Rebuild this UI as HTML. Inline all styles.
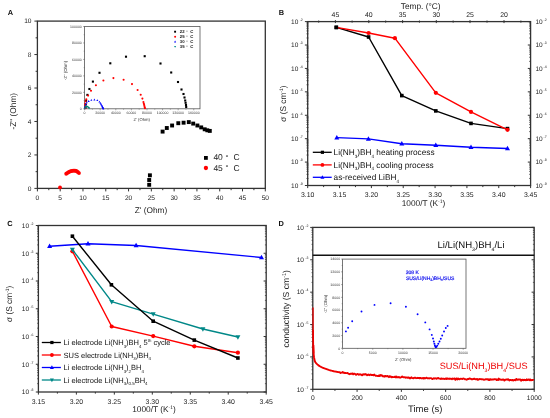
<!DOCTYPE html>
<html><head><meta charset="utf-8"><style>
html,body{margin:0;padding:0;background:#fff;}
svg{display:block;filter:blur(0.35px);}
text{font-family:"Liberation Sans",sans-serif;text-rendering:geometricPrecision;}
</style></head><body>
<svg width="550" height="418" viewBox="0 0 550 418">
<rect width="550" height="418" fill="#fff"/>
<rect x="37.40" y="21.10" width="227.90" height="167.30" fill="none" stroke="#333" stroke-width="1.3"/>
<line x1="37.40" y1="188.40" x2="37.40" y2="191.40" stroke="#333" stroke-width="1"/>
<text x="37.40" y="199.90" font-size="6.6" text-anchor="middle" fill="#222" font-weight="normal" >0</text>
<line x1="48.80" y1="188.40" x2="48.80" y2="190.20" stroke="#333" stroke-width="1"/>
<line x1="60.19" y1="188.40" x2="60.19" y2="191.40" stroke="#333" stroke-width="1"/>
<text x="60.19" y="199.90" font-size="6.6" text-anchor="middle" fill="#222" font-weight="normal" >5</text>
<line x1="71.59" y1="188.40" x2="71.59" y2="190.20" stroke="#333" stroke-width="1"/>
<line x1="82.98" y1="188.40" x2="82.98" y2="191.40" stroke="#333" stroke-width="1"/>
<text x="82.98" y="199.90" font-size="6.6" text-anchor="middle" fill="#222" font-weight="normal" >10</text>
<line x1="94.38" y1="188.40" x2="94.38" y2="190.20" stroke="#333" stroke-width="1"/>
<line x1="105.77" y1="188.40" x2="105.77" y2="191.40" stroke="#333" stroke-width="1"/>
<text x="105.77" y="199.90" font-size="6.6" text-anchor="middle" fill="#222" font-weight="normal" >15</text>
<line x1="117.16" y1="188.40" x2="117.16" y2="190.20" stroke="#333" stroke-width="1"/>
<line x1="128.56" y1="188.40" x2="128.56" y2="191.40" stroke="#333" stroke-width="1"/>
<text x="128.56" y="199.90" font-size="6.6" text-anchor="middle" fill="#222" font-weight="normal" >20</text>
<line x1="139.96" y1="188.40" x2="139.96" y2="190.20" stroke="#333" stroke-width="1"/>
<line x1="151.35" y1="188.40" x2="151.35" y2="191.40" stroke="#333" stroke-width="1"/>
<text x="151.35" y="199.90" font-size="6.6" text-anchor="middle" fill="#222" font-weight="normal" >25</text>
<line x1="162.75" y1="188.40" x2="162.75" y2="190.20" stroke="#333" stroke-width="1"/>
<line x1="174.14" y1="188.40" x2="174.14" y2="191.40" stroke="#333" stroke-width="1"/>
<text x="174.14" y="199.90" font-size="6.6" text-anchor="middle" fill="#222" font-weight="normal" >30</text>
<line x1="185.54" y1="188.40" x2="185.54" y2="190.20" stroke="#333" stroke-width="1"/>
<line x1="196.93" y1="188.40" x2="196.93" y2="191.40" stroke="#333" stroke-width="1"/>
<text x="196.93" y="199.90" font-size="6.6" text-anchor="middle" fill="#222" font-weight="normal" >35</text>
<line x1="208.33" y1="188.40" x2="208.33" y2="190.20" stroke="#333" stroke-width="1"/>
<line x1="219.72" y1="188.40" x2="219.72" y2="191.40" stroke="#333" stroke-width="1"/>
<text x="219.72" y="199.90" font-size="6.6" text-anchor="middle" fill="#222" font-weight="normal" >40</text>
<line x1="231.12" y1="188.40" x2="231.12" y2="190.20" stroke="#333" stroke-width="1"/>
<line x1="242.51" y1="188.40" x2="242.51" y2="191.40" stroke="#333" stroke-width="1"/>
<text x="242.51" y="199.90" font-size="6.6" text-anchor="middle" fill="#222" font-weight="normal" >45</text>
<line x1="253.91" y1="188.40" x2="253.91" y2="190.20" stroke="#333" stroke-width="1"/>
<line x1="265.30" y1="188.40" x2="265.30" y2="191.40" stroke="#333" stroke-width="1"/>
<text x="265.30" y="199.90" font-size="6.6" text-anchor="middle" fill="#222" font-weight="normal" >50</text>
<line x1="34.40" y1="188.40" x2="37.40" y2="188.40" stroke="#333" stroke-width="1"/>
<text x="31.50" y="190.70" font-size="6.6" text-anchor="end" fill="#222" font-weight="normal" >0</text>
<line x1="35.60" y1="171.67" x2="37.40" y2="171.67" stroke="#333" stroke-width="1"/>
<line x1="34.40" y1="154.94" x2="37.40" y2="154.94" stroke="#333" stroke-width="1"/>
<text x="31.50" y="157.24" font-size="6.6" text-anchor="end" fill="#222" font-weight="normal" >2</text>
<line x1="35.60" y1="138.21" x2="37.40" y2="138.21" stroke="#333" stroke-width="1"/>
<line x1="34.40" y1="121.48" x2="37.40" y2="121.48" stroke="#333" stroke-width="1"/>
<text x="31.50" y="123.78" font-size="6.6" text-anchor="end" fill="#222" font-weight="normal" >4</text>
<line x1="35.60" y1="104.75" x2="37.40" y2="104.75" stroke="#333" stroke-width="1"/>
<line x1="34.40" y1="88.02" x2="37.40" y2="88.02" stroke="#333" stroke-width="1"/>
<text x="31.50" y="90.32" font-size="6.6" text-anchor="end" fill="#222" font-weight="normal" >6</text>
<line x1="35.60" y1="71.29" x2="37.40" y2="71.29" stroke="#333" stroke-width="1"/>
<line x1="34.40" y1="54.56" x2="37.40" y2="54.56" stroke="#333" stroke-width="1"/>
<text x="31.50" y="56.86" font-size="6.6" text-anchor="end" fill="#222" font-weight="normal" >8</text>
<line x1="35.60" y1="37.83" x2="37.40" y2="37.83" stroke="#333" stroke-width="1"/>
<line x1="34.40" y1="21.10" x2="37.40" y2="21.10" stroke="#333" stroke-width="1"/>
<text x="31.50" y="23.40" font-size="6.6" text-anchor="end" fill="#222" font-weight="normal" >10</text>
<text x="151.00" y="213.00" font-size="8.3" text-anchor="middle" fill="#222" font-weight="normal" >Z' (Ohm)</text>
<text x="16.20" y="111.20" font-size="8.3" text-anchor="middle" fill="#222" font-weight="normal" transform="rotate(-90 16.2 111.2)">-Z" (Ohm)</text>
<text x="10.30" y="15.40" font-size="7.4" text-anchor="middle" fill="#111" font-weight="bold" >A</text>
<rect x="147.95" y="173.35" width="3.9" height="3.9" fill="#000"/>
<rect x="147.25" y="178.05" width="3.9" height="3.9" fill="#000"/>
<rect x="147.25" y="182.85" width="3.9" height="3.9" fill="#000"/>
<rect x="160.65" y="129.65" width="3.9" height="3.9" fill="#000"/>
<rect x="164.85" y="126.05" width="3.9" height="3.9" fill="#000"/>
<rect x="170.15" y="123.55" width="3.9" height="3.9" fill="#000"/>
<rect x="176.35" y="121.25" width="3.9" height="3.9" fill="#000"/>
<rect x="181.65" y="120.75" width="3.9" height="3.9" fill="#000"/>
<rect x="186.85" y="120.15" width="3.9" height="3.9" fill="#000"/>
<rect x="191.25" y="121.65" width="3.9" height="3.9" fill="#000"/>
<rect x="195.45" y="123.55" width="3.9" height="3.9" fill="#000"/>
<rect x="199.25" y="125.45" width="3.9" height="3.9" fill="#000"/>
<rect x="202.75" y="127.35" width="3.9" height="3.9" fill="#000"/>
<rect x="205.35" y="128.35" width="3.9" height="3.9" fill="#000"/>
<rect x="207.85" y="128.95" width="3.9" height="3.9" fill="#000"/>
<circle cx="60.00" cy="187.40" r="1.9" fill="#f00"/>
<circle cx="66.20" cy="173.75" r="1.9" fill="#f00"/>
<circle cx="67.18" cy="173.03" r="1.9" fill="#f00"/>
<circle cx="68.17" cy="172.41" r="1.9" fill="#f00"/>
<circle cx="69.15" cy="171.87" r="1.9" fill="#f00"/>
<circle cx="70.14" cy="171.43" r="1.9" fill="#f00"/>
<circle cx="71.12" cy="171.09" r="1.9" fill="#f00"/>
<circle cx="72.11" cy="170.83" r="1.9" fill="#f00"/>
<circle cx="73.09" cy="170.67" r="1.9" fill="#f00"/>
<circle cx="74.08" cy="170.60" r="1.9" fill="#f00"/>
<circle cx="75.06" cy="170.66" r="1.9" fill="#f00"/>
<circle cx="76.05" cy="170.94" r="1.9" fill="#f00"/>
<circle cx="77.03" cy="171.43" r="1.9" fill="#f00"/>
<circle cx="78.02" cy="172.13" r="1.9" fill="#f00"/>
<circle cx="79.00" cy="173.05" r="1.9" fill="#f00"/>
<text x="213.40" y="160.20" font-size="8.5" text-anchor="start" fill="#222" font-weight="normal" >40</text>
<text x="225.47" y="160.20" font-size="7.225" text-anchor="start" fill="#222" font-weight="normal" dy="-0.68">°</text>
<text x="233.46" y="160.20" font-size="8.5" text-anchor="start" fill="#222" font-weight="normal" >C</text>
<rect x="204.00" y="156.00" width="3.8" height="3.8" fill="#000"/>
<text x="213.40" y="170.80" font-size="8.5" text-anchor="start" fill="#222" font-weight="normal" >45</text>
<text x="225.47" y="170.80" font-size="7.225" text-anchor="start" fill="#222" font-weight="normal" dy="-0.68">°</text>
<text x="233.46" y="170.80" font-size="8.5" text-anchor="start" fill="#222" font-weight="normal" >C</text>
<circle cx="205.90" cy="168.00" r="2.15" fill="#f00"/>
<rect x="84.60" y="26.50" width="115.40" height="82.30" fill="none" stroke="#555" stroke-width="0.8"/>
<line x1="84.60" y1="108.80" x2="84.60" y2="110.30" stroke="#555" stroke-width="0.5"/>
<text x="84.60" y="113.90" font-size="3.5" text-anchor="middle" fill="#333" font-weight="normal" >0</text>
<line x1="92.40" y1="108.80" x2="92.40" y2="109.70" stroke="#555" stroke-width="0.5"/>
<line x1="100.19" y1="108.80" x2="100.19" y2="110.30" stroke="#555" stroke-width="0.5"/>
<text x="100.19" y="113.90" font-size="3.5" text-anchor="middle" fill="#333" font-weight="normal" >20000</text>
<line x1="107.99" y1="108.80" x2="107.99" y2="109.70" stroke="#555" stroke-width="0.5"/>
<line x1="115.79" y1="108.80" x2="115.79" y2="110.30" stroke="#555" stroke-width="0.5"/>
<text x="115.79" y="113.90" font-size="3.5" text-anchor="middle" fill="#333" font-weight="normal" >40000</text>
<line x1="123.59" y1="108.80" x2="123.59" y2="109.70" stroke="#555" stroke-width="0.5"/>
<line x1="131.38" y1="108.80" x2="131.38" y2="110.30" stroke="#555" stroke-width="0.5"/>
<text x="131.38" y="113.90" font-size="3.5" text-anchor="middle" fill="#333" font-weight="normal" >60000</text>
<line x1="139.18" y1="108.80" x2="139.18" y2="109.70" stroke="#555" stroke-width="0.5"/>
<line x1="146.98" y1="108.80" x2="146.98" y2="110.30" stroke="#555" stroke-width="0.5"/>
<text x="146.98" y="113.90" font-size="3.5" text-anchor="middle" fill="#333" font-weight="normal" >80000</text>
<line x1="154.78" y1="108.80" x2="154.78" y2="109.70" stroke="#555" stroke-width="0.5"/>
<line x1="162.57" y1="108.80" x2="162.57" y2="110.30" stroke="#555" stroke-width="0.5"/>
<text x="162.57" y="113.90" font-size="3.5" text-anchor="middle" fill="#333" font-weight="normal" >100000</text>
<line x1="170.37" y1="108.80" x2="170.37" y2="109.70" stroke="#555" stroke-width="0.5"/>
<line x1="178.17" y1="108.80" x2="178.17" y2="110.30" stroke="#555" stroke-width="0.5"/>
<text x="178.17" y="113.90" font-size="3.5" text-anchor="middle" fill="#333" font-weight="normal" >120000</text>
<line x1="185.96" y1="108.80" x2="185.96" y2="109.70" stroke="#555" stroke-width="0.5"/>
<line x1="193.76" y1="108.80" x2="193.76" y2="110.30" stroke="#555" stroke-width="0.5"/>
<text x="193.76" y="113.90" font-size="3.5" text-anchor="middle" fill="#333" font-weight="normal" >140000</text>
<line x1="83.10" y1="108.80" x2="84.60" y2="108.80" stroke="#555" stroke-width="0.5"/>
<text x="81.80" y="110.05" font-size="3.5" text-anchor="end" fill="#333" font-weight="normal" >0</text>
<line x1="83.70" y1="100.57" x2="84.60" y2="100.57" stroke="#555" stroke-width="0.5"/>
<line x1="83.10" y1="92.34" x2="84.60" y2="92.34" stroke="#555" stroke-width="0.5"/>
<text x="81.80" y="93.59" font-size="3.5" text-anchor="end" fill="#333" font-weight="normal" >20000</text>
<line x1="83.70" y1="84.11" x2="84.60" y2="84.11" stroke="#555" stroke-width="0.5"/>
<line x1="83.10" y1="75.88" x2="84.60" y2="75.88" stroke="#555" stroke-width="0.5"/>
<text x="81.80" y="77.13" font-size="3.5" text-anchor="end" fill="#333" font-weight="normal" >40000</text>
<line x1="83.70" y1="67.65" x2="84.60" y2="67.65" stroke="#555" stroke-width="0.5"/>
<line x1="83.10" y1="59.42" x2="84.60" y2="59.42" stroke="#555" stroke-width="0.5"/>
<text x="81.80" y="60.67" font-size="3.5" text-anchor="end" fill="#333" font-weight="normal" >60000</text>
<line x1="83.70" y1="51.19" x2="84.60" y2="51.19" stroke="#555" stroke-width="0.5"/>
<line x1="83.10" y1="42.96" x2="84.60" y2="42.96" stroke="#555" stroke-width="0.5"/>
<text x="81.80" y="44.21" font-size="3.5" text-anchor="end" fill="#333" font-weight="normal" >80000</text>
<line x1="83.70" y1="34.73" x2="84.60" y2="34.73" stroke="#555" stroke-width="0.5"/>
<line x1="83.10" y1="26.50" x2="84.60" y2="26.50" stroke="#555" stroke-width="0.5"/>
<text x="81.80" y="27.75" font-size="3.5" text-anchor="end" fill="#333" font-weight="normal" >100000</text>
<text x="141.80" y="120.70" font-size="4.2" text-anchor="middle" fill="#333" font-weight="normal" >Z' (Ohm)</text>
<text x="66.90" y="70.50" font-size="4.4" text-anchor="middle" fill="#333" font-weight="normal" transform="rotate(-90 66.9 70.5)">-Z" (Ohm)</text>
<rect x="84.55" y="106.45" width="2.1" height="2.1" fill="#000"/>
<rect x="84.75" y="103.45" width="2.1" height="2.1" fill="#000"/>
<rect x="85.05" y="99.75" width="2.1" height="2.1" fill="#000"/>
<rect x="86.35" y="93.85" width="2.1" height="2.1" fill="#000"/>
<rect x="88.35" y="87.95" width="2.1" height="2.1" fill="#000"/>
<rect x="91.85" y="80.55" width="2.1" height="2.1" fill="#000"/>
<rect x="98.45" y="71.75" width="2.1" height="2.1" fill="#000"/>
<rect x="109.25" y="62.25" width="2.1" height="2.1" fill="#000"/>
<rect x="124.95" y="55.65" width="2.1" height="2.1" fill="#000"/>
<rect x="143.65" y="55.15" width="2.1" height="2.1" fill="#000"/>
<rect x="159.45" y="62.45" width="2.1" height="2.1" fill="#000"/>
<rect x="170.15" y="71.45" width="2.1" height="2.1" fill="#000"/>
<rect x="176.95" y="80.95" width="2.1" height="2.1" fill="#000"/>
<rect x="180.45" y="88.45" width="2.1" height="2.1" fill="#000"/>
<rect x="182.45" y="92.95" width="2.1" height="2.1" fill="#000"/>
<rect x="183.45" y="96.45" width="2.1" height="2.1" fill="#000"/>
<rect x="184.15" y="99.45" width="2.1" height="2.1" fill="#000"/>
<rect x="184.55" y="101.75" width="2.1" height="2.1" fill="#000"/>
<rect x="184.95" y="103.95" width="2.1" height="2.1" fill="#000"/>
<rect x="185.15" y="105.95" width="2.1" height="2.1" fill="#000"/>
<circle cx="85.20" cy="108.20" r="1.05" fill="#f00"/>
<circle cx="85.00" cy="105.70" r="1.05" fill="#f00"/>
<circle cx="85.20" cy="103.70" r="1.05" fill="#f00"/>
<circle cx="85.50" cy="101.20" r="1.05" fill="#f00"/>
<circle cx="86.30" cy="99.20" r="1.05" fill="#f00"/>
<circle cx="88.10" cy="95.60" r="1.05" fill="#f00"/>
<circle cx="91.00" cy="90.80" r="1.05" fill="#f00"/>
<circle cx="95.90" cy="85.30" r="1.05" fill="#f00"/>
<circle cx="103.40" cy="80.50" r="1.05" fill="#f00"/>
<circle cx="113.40" cy="78.10" r="1.05" fill="#f00"/>
<circle cx="123.60" cy="79.70" r="1.05" fill="#f00"/>
<circle cx="132.00" cy="84.10" r="1.05" fill="#f00"/>
<circle cx="137.60" cy="90.00" r="1.05" fill="#f00"/>
<circle cx="140.70" cy="94.80" r="1.05" fill="#f00"/>
<circle cx="142.40" cy="98.60" r="1.05" fill="#f00"/>
<circle cx="143.40" cy="102.00" r="1.05" fill="#f00"/>
<circle cx="144.10" cy="104.70" r="1.05" fill="#f00"/>
<circle cx="144.70" cy="107.20" r="1.05" fill="#f00"/>
<circle cx="145.00" cy="108.30" r="1.05" fill="#f00"/>
<circle cx="143.80" cy="103.50" r="1.05" fill="#f00"/>
<circle cx="144.40" cy="106.00" r="1.05" fill="#f00"/>
<polygon points="84.80,106.72 83.80,108.52 85.80,108.52" fill="#00f"/>
<polygon points="85.20,104.92 84.20,106.72 86.20,106.72" fill="#00f"/>
<polygon points="85.80,103.32 84.80,105.12 86.80,105.12" fill="#00f"/>
<polygon points="86.80,101.52 85.80,103.32 87.80,103.32" fill="#00f"/>
<polygon points="88.70,100.12 87.70,101.92 89.70,101.92" fill="#00f"/>
<polygon points="91.30,99.02 90.30,100.82 92.30,100.82" fill="#00f"/>
<polygon points="94.40,98.62 93.40,100.42 95.40,100.42" fill="#00f"/>
<polygon points="97.30,99.32 96.30,101.12 98.30,101.12" fill="#00f"/>
<polygon points="99.40,100.82 98.40,102.62 100.40,102.62" fill="#00f"/>
<polygon points="100.40,101.92 99.40,103.72 101.40,103.72" fill="#00f"/>
<polygon points="100.90,102.92 99.90,104.72 101.90,104.72" fill="#00f"/>
<polygon points="101.50,103.92 100.50,105.72 102.50,105.72" fill="#00f"/>
<polygon points="101.90,104.72 100.90,106.52 102.90,106.52" fill="#00f"/>
<polygon points="102.30,105.52 101.30,107.32 103.30,107.32" fill="#00f"/>
<polygon points="102.60,106.12 101.60,107.92 103.60,107.92" fill="#00f"/>
<polygon points="102.90,106.72 101.90,108.52 103.90,108.52" fill="#00f"/>
<polygon points="103.10,107.22 102.10,109.02 104.10,109.02" fill="#00f"/>
<polygon points="103.30,107.62 102.30,109.42 104.30,109.42" fill="#00f"/>
<polygon points="84.80,109.58 83.80,107.78 85.80,107.78" fill="#087"/>
<polygon points="85.20,108.28 84.20,106.48 86.20,106.48" fill="#087"/>
<polygon points="85.80,107.58 84.80,105.78 86.80,105.78" fill="#087"/>
<polygon points="86.60,107.48 85.60,105.68 87.60,105.68" fill="#087"/>
<polygon points="87.40,107.78 86.40,105.98 88.40,105.98" fill="#087"/>
<polygon points="88.10,108.18 87.10,106.38 89.10,106.38" fill="#087"/>
<polygon points="88.70,108.68 87.70,106.88 89.70,106.88" fill="#087"/>
<polygon points="89.20,109.18 88.20,107.38 90.20,107.38" fill="#087"/>
<rect x="174.15" y="30.75" width="1.9" height="1.9" fill="#000"/>
<text x="179.80" y="33.20" font-size="4.3" text-anchor="start" fill="#222" font-weight="bold" >22</text>
<text x="186.20" y="32.60" font-size="3.4" text-anchor="start" fill="#222" font-weight="bold" >°</text>
<text x="190.20" y="33.20" font-size="4.3" text-anchor="start" fill="#222" font-weight="bold" >C</text>
<circle cx="175.10" cy="36.70" r="1.0" fill="#f00"/>
<text x="179.80" y="38.20" font-size="4.3" text-anchor="start" fill="#222" font-weight="bold" >25</text>
<text x="186.20" y="37.60" font-size="3.4" text-anchor="start" fill="#222" font-weight="bold" >°</text>
<text x="190.20" y="38.20" font-size="4.3" text-anchor="start" fill="#222" font-weight="bold" >C</text>
<polygon points="175.10,40.57 174.05,42.46 176.15,42.46" fill="#00f"/>
<text x="179.80" y="43.20" font-size="4.3" text-anchor="start" fill="#222" font-weight="bold" >30</text>
<text x="186.20" y="42.60" font-size="3.4" text-anchor="start" fill="#222" font-weight="bold" >°</text>
<text x="190.20" y="43.20" font-size="4.3" text-anchor="start" fill="#222" font-weight="bold" >C</text>
<polygon points="175.10,47.83 174.05,45.94 176.15,45.94" fill="#088"/>
<text x="179.80" y="48.20" font-size="4.3" text-anchor="start" fill="#222" font-weight="bold" >35</text>
<text x="186.20" y="47.60" font-size="3.4" text-anchor="start" fill="#222" font-weight="bold" >°</text>
<text x="190.20" y="48.20" font-size="4.3" text-anchor="start" fill="#222" font-weight="bold" >C</text>
<rect x="307.70" y="21.60" width="222.90" height="163.90" fill="none" stroke="#333" stroke-width="1.3"/>
<line x1="307.70" y1="185.50" x2="307.70" y2="188.10" stroke="#333" stroke-width="1"/>
<text x="307.70" y="196.50" font-size="6.9" text-anchor="middle" fill="#222" font-weight="normal" >3.10</text>
<line x1="323.62" y1="185.50" x2="323.62" y2="187.10" stroke="#333" stroke-width="1"/>
<line x1="339.54" y1="185.50" x2="339.54" y2="188.10" stroke="#333" stroke-width="1"/>
<text x="339.54" y="196.50" font-size="6.9" text-anchor="middle" fill="#222" font-weight="normal" >3.15</text>
<line x1="355.46" y1="185.50" x2="355.46" y2="187.10" stroke="#333" stroke-width="1"/>
<line x1="371.39" y1="185.50" x2="371.39" y2="188.10" stroke="#333" stroke-width="1"/>
<text x="371.39" y="196.50" font-size="6.9" text-anchor="middle" fill="#222" font-weight="normal" >3.20</text>
<line x1="387.31" y1="185.50" x2="387.31" y2="187.10" stroke="#333" stroke-width="1"/>
<line x1="403.23" y1="185.50" x2="403.23" y2="188.10" stroke="#333" stroke-width="1"/>
<text x="403.23" y="196.50" font-size="6.9" text-anchor="middle" fill="#222" font-weight="normal" >3.25</text>
<line x1="419.15" y1="185.50" x2="419.15" y2="187.10" stroke="#333" stroke-width="1"/>
<line x1="435.07" y1="185.50" x2="435.07" y2="188.10" stroke="#333" stroke-width="1"/>
<text x="435.07" y="196.50" font-size="6.9" text-anchor="middle" fill="#222" font-weight="normal" >3.30</text>
<line x1="450.99" y1="185.50" x2="450.99" y2="187.10" stroke="#333" stroke-width="1"/>
<line x1="466.91" y1="185.50" x2="466.91" y2="188.10" stroke="#333" stroke-width="1"/>
<text x="466.91" y="196.50" font-size="6.9" text-anchor="middle" fill="#222" font-weight="normal" >3.35</text>
<line x1="482.84" y1="185.50" x2="482.84" y2="187.10" stroke="#333" stroke-width="1"/>
<line x1="498.76" y1="185.50" x2="498.76" y2="188.10" stroke="#333" stroke-width="1"/>
<text x="498.76" y="196.50" font-size="6.9" text-anchor="middle" fill="#222" font-weight="normal" >3.40</text>
<line x1="514.68" y1="185.50" x2="514.68" y2="187.10" stroke="#333" stroke-width="1"/>
<line x1="530.60" y1="185.50" x2="530.60" y2="188.10" stroke="#333" stroke-width="1"/>
<text x="530.60" y="196.50" font-size="6.9" text-anchor="middle" fill="#222" font-weight="normal" >3.45</text>
<line x1="304.90" y1="185.50" x2="307.70" y2="185.50" stroke="#333" stroke-width="1"/>
<line x1="527.80" y1="185.50" x2="530.60" y2="185.50" stroke="#333" stroke-width="1"/>
<text x="298.30" y="187.80" font-size="6.5" text-anchor="end" fill="#222" font-weight="normal" >10</text>
<text x="299.70" y="184.80" font-size="3.5" text-anchor="start" fill="#222" font-weight="normal" >-9</text>
<text x="535.40" y="187.80" font-size="6.5" text-anchor="start" fill="#222" font-weight="normal" >10</text>
<text x="543.60" y="184.80" font-size="3.5" text-anchor="start" fill="#222" font-weight="normal" >-9</text>
<line x1="306.40" y1="178.45" x2="308.50" y2="178.45" stroke="#333" stroke-width="0.7"/>
<line x1="529.10" y1="178.45" x2="530.60" y2="178.45" stroke="#333" stroke-width="0.7"/>
<line x1="306.40" y1="174.33" x2="308.50" y2="174.33" stroke="#333" stroke-width="0.7"/>
<line x1="529.10" y1="174.33" x2="530.60" y2="174.33" stroke="#333" stroke-width="0.7"/>
<line x1="306.40" y1="171.40" x2="308.50" y2="171.40" stroke="#333" stroke-width="0.7"/>
<line x1="529.10" y1="171.40" x2="530.60" y2="171.40" stroke="#333" stroke-width="0.7"/>
<line x1="306.40" y1="169.13" x2="308.50" y2="169.13" stroke="#333" stroke-width="0.7"/>
<line x1="529.10" y1="169.13" x2="530.60" y2="169.13" stroke="#333" stroke-width="0.7"/>
<line x1="306.40" y1="167.28" x2="308.50" y2="167.28" stroke="#333" stroke-width="0.7"/>
<line x1="529.10" y1="167.28" x2="530.60" y2="167.28" stroke="#333" stroke-width="0.7"/>
<line x1="306.40" y1="165.71" x2="308.50" y2="165.71" stroke="#333" stroke-width="0.7"/>
<line x1="529.10" y1="165.71" x2="530.60" y2="165.71" stroke="#333" stroke-width="0.7"/>
<line x1="306.40" y1="164.35" x2="308.50" y2="164.35" stroke="#333" stroke-width="0.7"/>
<line x1="529.10" y1="164.35" x2="530.60" y2="164.35" stroke="#333" stroke-width="0.7"/>
<line x1="306.40" y1="163.16" x2="308.50" y2="163.16" stroke="#333" stroke-width="0.7"/>
<line x1="529.10" y1="163.16" x2="530.60" y2="163.16" stroke="#333" stroke-width="0.7"/>
<line x1="304.90" y1="162.09" x2="307.70" y2="162.09" stroke="#333" stroke-width="1"/>
<line x1="527.80" y1="162.09" x2="530.60" y2="162.09" stroke="#333" stroke-width="1"/>
<text x="298.30" y="164.39" font-size="6.5" text-anchor="end" fill="#222" font-weight="normal" >10</text>
<text x="299.70" y="161.39" font-size="3.5" text-anchor="start" fill="#222" font-weight="normal" >-8</text>
<text x="535.40" y="164.39" font-size="6.5" text-anchor="start" fill="#222" font-weight="normal" >10</text>
<text x="543.60" y="161.39" font-size="3.5" text-anchor="start" fill="#222" font-weight="normal" >-8</text>
<line x1="306.40" y1="155.04" x2="308.50" y2="155.04" stroke="#333" stroke-width="0.7"/>
<line x1="529.10" y1="155.04" x2="530.60" y2="155.04" stroke="#333" stroke-width="0.7"/>
<line x1="306.40" y1="150.91" x2="308.50" y2="150.91" stroke="#333" stroke-width="0.7"/>
<line x1="529.10" y1="150.91" x2="530.60" y2="150.91" stroke="#333" stroke-width="0.7"/>
<line x1="306.40" y1="147.99" x2="308.50" y2="147.99" stroke="#333" stroke-width="0.7"/>
<line x1="529.10" y1="147.99" x2="530.60" y2="147.99" stroke="#333" stroke-width="0.7"/>
<line x1="306.40" y1="145.72" x2="308.50" y2="145.72" stroke="#333" stroke-width="0.7"/>
<line x1="529.10" y1="145.72" x2="530.60" y2="145.72" stroke="#333" stroke-width="0.7"/>
<line x1="306.40" y1="143.87" x2="308.50" y2="143.87" stroke="#333" stroke-width="0.7"/>
<line x1="529.10" y1="143.87" x2="530.60" y2="143.87" stroke="#333" stroke-width="0.7"/>
<line x1="306.40" y1="142.30" x2="308.50" y2="142.30" stroke="#333" stroke-width="0.7"/>
<line x1="529.10" y1="142.30" x2="530.60" y2="142.30" stroke="#333" stroke-width="0.7"/>
<line x1="306.40" y1="140.94" x2="308.50" y2="140.94" stroke="#333" stroke-width="0.7"/>
<line x1="529.10" y1="140.94" x2="530.60" y2="140.94" stroke="#333" stroke-width="0.7"/>
<line x1="306.40" y1="139.74" x2="308.50" y2="139.74" stroke="#333" stroke-width="0.7"/>
<line x1="529.10" y1="139.74" x2="530.60" y2="139.74" stroke="#333" stroke-width="0.7"/>
<line x1="304.90" y1="138.67" x2="307.70" y2="138.67" stroke="#333" stroke-width="1"/>
<line x1="527.80" y1="138.67" x2="530.60" y2="138.67" stroke="#333" stroke-width="1"/>
<text x="298.30" y="140.97" font-size="6.5" text-anchor="end" fill="#222" font-weight="normal" >10</text>
<text x="299.70" y="137.97" font-size="3.5" text-anchor="start" fill="#222" font-weight="normal" >-7</text>
<text x="535.40" y="140.97" font-size="6.5" text-anchor="start" fill="#222" font-weight="normal" >10</text>
<text x="543.60" y="137.97" font-size="3.5" text-anchor="start" fill="#222" font-weight="normal" >-7</text>
<line x1="306.40" y1="131.62" x2="308.50" y2="131.62" stroke="#333" stroke-width="0.7"/>
<line x1="529.10" y1="131.62" x2="530.60" y2="131.62" stroke="#333" stroke-width="0.7"/>
<line x1="306.40" y1="127.50" x2="308.50" y2="127.50" stroke="#333" stroke-width="0.7"/>
<line x1="529.10" y1="127.50" x2="530.60" y2="127.50" stroke="#333" stroke-width="0.7"/>
<line x1="306.40" y1="124.57" x2="308.50" y2="124.57" stroke="#333" stroke-width="0.7"/>
<line x1="529.10" y1="124.57" x2="530.60" y2="124.57" stroke="#333" stroke-width="0.7"/>
<line x1="306.40" y1="122.31" x2="308.50" y2="122.31" stroke="#333" stroke-width="0.7"/>
<line x1="529.10" y1="122.31" x2="530.60" y2="122.31" stroke="#333" stroke-width="0.7"/>
<line x1="306.40" y1="120.45" x2="308.50" y2="120.45" stroke="#333" stroke-width="0.7"/>
<line x1="529.10" y1="120.45" x2="530.60" y2="120.45" stroke="#333" stroke-width="0.7"/>
<line x1="306.40" y1="118.88" x2="308.50" y2="118.88" stroke="#333" stroke-width="0.7"/>
<line x1="529.10" y1="118.88" x2="530.60" y2="118.88" stroke="#333" stroke-width="0.7"/>
<line x1="306.40" y1="117.53" x2="308.50" y2="117.53" stroke="#333" stroke-width="0.7"/>
<line x1="529.10" y1="117.53" x2="530.60" y2="117.53" stroke="#333" stroke-width="0.7"/>
<line x1="306.40" y1="116.33" x2="308.50" y2="116.33" stroke="#333" stroke-width="0.7"/>
<line x1="529.10" y1="116.33" x2="530.60" y2="116.33" stroke="#333" stroke-width="0.7"/>
<line x1="304.90" y1="115.26" x2="307.70" y2="115.26" stroke="#333" stroke-width="1"/>
<line x1="527.80" y1="115.26" x2="530.60" y2="115.26" stroke="#333" stroke-width="1"/>
<text x="298.30" y="117.56" font-size="6.5" text-anchor="end" fill="#222" font-weight="normal" >10</text>
<text x="299.70" y="114.56" font-size="3.5" text-anchor="start" fill="#222" font-weight="normal" >-6</text>
<text x="535.40" y="117.56" font-size="6.5" text-anchor="start" fill="#222" font-weight="normal" >10</text>
<text x="543.60" y="114.56" font-size="3.5" text-anchor="start" fill="#222" font-weight="normal" >-6</text>
<line x1="306.40" y1="108.21" x2="308.50" y2="108.21" stroke="#333" stroke-width="0.7"/>
<line x1="529.10" y1="108.21" x2="530.60" y2="108.21" stroke="#333" stroke-width="0.7"/>
<line x1="306.40" y1="104.09" x2="308.50" y2="104.09" stroke="#333" stroke-width="0.7"/>
<line x1="529.10" y1="104.09" x2="530.60" y2="104.09" stroke="#333" stroke-width="0.7"/>
<line x1="306.40" y1="101.16" x2="308.50" y2="101.16" stroke="#333" stroke-width="0.7"/>
<line x1="529.10" y1="101.16" x2="530.60" y2="101.16" stroke="#333" stroke-width="0.7"/>
<line x1="306.40" y1="98.89" x2="308.50" y2="98.89" stroke="#333" stroke-width="0.7"/>
<line x1="529.10" y1="98.89" x2="530.60" y2="98.89" stroke="#333" stroke-width="0.7"/>
<line x1="306.40" y1="97.04" x2="308.50" y2="97.04" stroke="#333" stroke-width="0.7"/>
<line x1="529.10" y1="97.04" x2="530.60" y2="97.04" stroke="#333" stroke-width="0.7"/>
<line x1="306.40" y1="95.47" x2="308.50" y2="95.47" stroke="#333" stroke-width="0.7"/>
<line x1="529.10" y1="95.47" x2="530.60" y2="95.47" stroke="#333" stroke-width="0.7"/>
<line x1="306.40" y1="94.11" x2="308.50" y2="94.11" stroke="#333" stroke-width="0.7"/>
<line x1="529.10" y1="94.11" x2="530.60" y2="94.11" stroke="#333" stroke-width="0.7"/>
<line x1="306.40" y1="92.91" x2="308.50" y2="92.91" stroke="#333" stroke-width="0.7"/>
<line x1="529.10" y1="92.91" x2="530.60" y2="92.91" stroke="#333" stroke-width="0.7"/>
<line x1="304.90" y1="91.84" x2="307.70" y2="91.84" stroke="#333" stroke-width="1"/>
<line x1="527.80" y1="91.84" x2="530.60" y2="91.84" stroke="#333" stroke-width="1"/>
<text x="298.30" y="94.14" font-size="6.5" text-anchor="end" fill="#222" font-weight="normal" >10</text>
<text x="299.70" y="91.14" font-size="3.5" text-anchor="start" fill="#222" font-weight="normal" >-5</text>
<text x="535.40" y="94.14" font-size="6.5" text-anchor="start" fill="#222" font-weight="normal" >10</text>
<text x="543.60" y="91.14" font-size="3.5" text-anchor="start" fill="#222" font-weight="normal" >-5</text>
<line x1="306.40" y1="84.79" x2="308.50" y2="84.79" stroke="#333" stroke-width="0.7"/>
<line x1="529.10" y1="84.79" x2="530.60" y2="84.79" stroke="#333" stroke-width="0.7"/>
<line x1="306.40" y1="80.67" x2="308.50" y2="80.67" stroke="#333" stroke-width="0.7"/>
<line x1="529.10" y1="80.67" x2="530.60" y2="80.67" stroke="#333" stroke-width="0.7"/>
<line x1="306.40" y1="77.75" x2="308.50" y2="77.75" stroke="#333" stroke-width="0.7"/>
<line x1="529.10" y1="77.75" x2="530.60" y2="77.75" stroke="#333" stroke-width="0.7"/>
<line x1="306.40" y1="75.48" x2="308.50" y2="75.48" stroke="#333" stroke-width="0.7"/>
<line x1="529.10" y1="75.48" x2="530.60" y2="75.48" stroke="#333" stroke-width="0.7"/>
<line x1="306.40" y1="73.62" x2="308.50" y2="73.62" stroke="#333" stroke-width="0.7"/>
<line x1="529.10" y1="73.62" x2="530.60" y2="73.62" stroke="#333" stroke-width="0.7"/>
<line x1="306.40" y1="72.06" x2="308.50" y2="72.06" stroke="#333" stroke-width="0.7"/>
<line x1="529.10" y1="72.06" x2="530.60" y2="72.06" stroke="#333" stroke-width="0.7"/>
<line x1="306.40" y1="70.70" x2="308.50" y2="70.70" stroke="#333" stroke-width="0.7"/>
<line x1="529.10" y1="70.70" x2="530.60" y2="70.70" stroke="#333" stroke-width="0.7"/>
<line x1="306.40" y1="69.50" x2="308.50" y2="69.50" stroke="#333" stroke-width="0.7"/>
<line x1="529.10" y1="69.50" x2="530.60" y2="69.50" stroke="#333" stroke-width="0.7"/>
<line x1="304.90" y1="68.43" x2="307.70" y2="68.43" stroke="#333" stroke-width="1"/>
<line x1="527.80" y1="68.43" x2="530.60" y2="68.43" stroke="#333" stroke-width="1"/>
<text x="298.30" y="70.73" font-size="6.5" text-anchor="end" fill="#222" font-weight="normal" >10</text>
<text x="299.70" y="67.73" font-size="3.5" text-anchor="start" fill="#222" font-weight="normal" >-4</text>
<text x="535.40" y="70.73" font-size="6.5" text-anchor="start" fill="#222" font-weight="normal" >10</text>
<text x="543.60" y="67.73" font-size="3.5" text-anchor="start" fill="#222" font-weight="normal" >-4</text>
<line x1="306.40" y1="61.38" x2="308.50" y2="61.38" stroke="#333" stroke-width="0.7"/>
<line x1="529.10" y1="61.38" x2="530.60" y2="61.38" stroke="#333" stroke-width="0.7"/>
<line x1="306.40" y1="57.26" x2="308.50" y2="57.26" stroke="#333" stroke-width="0.7"/>
<line x1="529.10" y1="57.26" x2="530.60" y2="57.26" stroke="#333" stroke-width="0.7"/>
<line x1="306.40" y1="54.33" x2="308.50" y2="54.33" stroke="#333" stroke-width="0.7"/>
<line x1="529.10" y1="54.33" x2="530.60" y2="54.33" stroke="#333" stroke-width="0.7"/>
<line x1="306.40" y1="52.06" x2="308.50" y2="52.06" stroke="#333" stroke-width="0.7"/>
<line x1="529.10" y1="52.06" x2="530.60" y2="52.06" stroke="#333" stroke-width="0.7"/>
<line x1="306.40" y1="50.21" x2="308.50" y2="50.21" stroke="#333" stroke-width="0.7"/>
<line x1="529.10" y1="50.21" x2="530.60" y2="50.21" stroke="#333" stroke-width="0.7"/>
<line x1="306.40" y1="48.64" x2="308.50" y2="48.64" stroke="#333" stroke-width="0.7"/>
<line x1="529.10" y1="48.64" x2="530.60" y2="48.64" stroke="#333" stroke-width="0.7"/>
<line x1="306.40" y1="47.28" x2="308.50" y2="47.28" stroke="#333" stroke-width="0.7"/>
<line x1="529.10" y1="47.28" x2="530.60" y2="47.28" stroke="#333" stroke-width="0.7"/>
<line x1="306.40" y1="46.09" x2="308.50" y2="46.09" stroke="#333" stroke-width="0.7"/>
<line x1="529.10" y1="46.09" x2="530.60" y2="46.09" stroke="#333" stroke-width="0.7"/>
<line x1="304.90" y1="45.01" x2="307.70" y2="45.01" stroke="#333" stroke-width="1"/>
<line x1="527.80" y1="45.01" x2="530.60" y2="45.01" stroke="#333" stroke-width="1"/>
<text x="298.30" y="47.31" font-size="6.5" text-anchor="end" fill="#222" font-weight="normal" >10</text>
<text x="299.70" y="44.31" font-size="3.5" text-anchor="start" fill="#222" font-weight="normal" >-3</text>
<text x="535.40" y="47.31" font-size="6.5" text-anchor="start" fill="#222" font-weight="normal" >10</text>
<text x="543.60" y="44.31" font-size="3.5" text-anchor="start" fill="#222" font-weight="normal" >-3</text>
<line x1="306.40" y1="37.97" x2="308.50" y2="37.97" stroke="#333" stroke-width="0.7"/>
<line x1="529.10" y1="37.97" x2="530.60" y2="37.97" stroke="#333" stroke-width="0.7"/>
<line x1="306.40" y1="33.84" x2="308.50" y2="33.84" stroke="#333" stroke-width="0.7"/>
<line x1="529.10" y1="33.84" x2="530.60" y2="33.84" stroke="#333" stroke-width="0.7"/>
<line x1="306.40" y1="30.92" x2="308.50" y2="30.92" stroke="#333" stroke-width="0.7"/>
<line x1="529.10" y1="30.92" x2="530.60" y2="30.92" stroke="#333" stroke-width="0.7"/>
<line x1="306.40" y1="28.65" x2="308.50" y2="28.65" stroke="#333" stroke-width="0.7"/>
<line x1="529.10" y1="28.65" x2="530.60" y2="28.65" stroke="#333" stroke-width="0.7"/>
<line x1="306.40" y1="26.79" x2="308.50" y2="26.79" stroke="#333" stroke-width="0.7"/>
<line x1="529.10" y1="26.79" x2="530.60" y2="26.79" stroke="#333" stroke-width="0.7"/>
<line x1="306.40" y1="25.23" x2="308.50" y2="25.23" stroke="#333" stroke-width="0.7"/>
<line x1="529.10" y1="25.23" x2="530.60" y2="25.23" stroke="#333" stroke-width="0.7"/>
<line x1="306.40" y1="23.87" x2="308.50" y2="23.87" stroke="#333" stroke-width="0.7"/>
<line x1="529.10" y1="23.87" x2="530.60" y2="23.87" stroke="#333" stroke-width="0.7"/>
<line x1="306.40" y1="22.67" x2="308.50" y2="22.67" stroke="#333" stroke-width="0.7"/>
<line x1="529.10" y1="22.67" x2="530.60" y2="22.67" stroke="#333" stroke-width="0.7"/>
<line x1="304.90" y1="21.60" x2="307.70" y2="21.60" stroke="#333" stroke-width="1"/>
<line x1="527.80" y1="21.60" x2="530.60" y2="21.60" stroke="#333" stroke-width="1"/>
<text x="298.30" y="23.90" font-size="6.5" text-anchor="end" fill="#222" font-weight="normal" >10</text>
<text x="299.70" y="20.90" font-size="3.5" text-anchor="start" fill="#222" font-weight="normal" >-2</text>
<text x="535.40" y="23.90" font-size="6.5" text-anchor="start" fill="#222" font-weight="normal" >10</text>
<text x="543.60" y="20.90" font-size="3.5" text-anchor="start" fill="#222" font-weight="normal" >-2</text>
<line x1="335.40" y1="20.10" x2="335.40" y2="23.10" stroke="#333" stroke-width="1"/>
<text x="335.40" y="16.60" font-size="6.9" text-anchor="middle" fill="#222" font-weight="normal" >45</text>
<line x1="368.80" y1="20.10" x2="368.80" y2="23.10" stroke="#333" stroke-width="1"/>
<text x="368.80" y="16.60" font-size="6.9" text-anchor="middle" fill="#222" font-weight="normal" >40</text>
<line x1="402.60" y1="20.10" x2="402.60" y2="23.10" stroke="#333" stroke-width="1"/>
<text x="402.60" y="16.60" font-size="6.9" text-anchor="middle" fill="#222" font-weight="normal" >35</text>
<line x1="436.30" y1="20.10" x2="436.30" y2="23.10" stroke="#333" stroke-width="1"/>
<text x="436.30" y="16.60" font-size="6.9" text-anchor="middle" fill="#222" font-weight="normal" >30</text>
<line x1="470.00" y1="20.10" x2="470.00" y2="23.10" stroke="#333" stroke-width="1"/>
<text x="470.00" y="16.60" font-size="6.9" text-anchor="middle" fill="#222" font-weight="normal" >25</text>
<line x1="504.00" y1="20.10" x2="504.00" y2="23.10" stroke="#333" stroke-width="1"/>
<text x="504.00" y="16.60" font-size="6.9" text-anchor="middle" fill="#222" font-weight="normal" >20</text>
<line x1="352.10" y1="20.40" x2="352.10" y2="22.80" stroke="#333" stroke-width="0.8"/>
<line x1="385.70" y1="20.40" x2="385.70" y2="22.80" stroke="#333" stroke-width="0.8"/>
<line x1="419.45" y1="20.40" x2="419.45" y2="22.80" stroke="#333" stroke-width="0.8"/>
<line x1="453.15" y1="20.40" x2="453.15" y2="22.80" stroke="#333" stroke-width="0.8"/>
<line x1="487.00" y1="20.40" x2="487.00" y2="22.80" stroke="#333" stroke-width="0.8"/>
<line x1="318.70" y1="20.40" x2="318.70" y2="22.80" stroke="#333" stroke-width="0.8"/>
<line x1="520.90" y1="20.40" x2="520.90" y2="22.80" stroke="#333" stroke-width="0.8"/>
<text x="420.70" y="8.50" font-size="8.3" text-anchor="middle" fill="#222" font-weight="normal" >Temp. (°C)</text>
<text x="423.50" y="206.20" font-size="8.3" text-anchor="middle" fill="#222" font-weight="normal" >1000/T (K<tspan font-size="5" dy="-3">-1</tspan><tspan dy="3">)</tspan></text>
<text x="286.20" y="103.60" font-size="8.3" text-anchor="middle" fill="#222" font-weight="normal" transform="rotate(-90 286.2 103.6)">σ (S cm<tspan font-size="5" dy="-3">-1</tspan><tspan dy="3">)</tspan></text>
<text x="281.30" y="15.40" font-size="7.4" text-anchor="middle" fill="#111" font-weight="bold" >B</text>
<polyline points="336.80,137.60 368.40,138.90 401.80,143.70 435.80,145.30 471.00,147.30 507.50,148.50" fill="none" stroke="#00f" stroke-width="1.4" stroke-linejoin="round"/>
<polygon points="336.80,134.90 334.30,139.40 339.30,139.40" fill="#00f"/>
<polygon points="368.40,136.20 365.90,140.70 370.90,140.70" fill="#00f"/>
<polygon points="401.80,141.00 399.30,145.50 404.30,145.50" fill="#00f"/>
<polygon points="435.80,142.60 433.30,147.10 438.30,147.10" fill="#00f"/>
<polygon points="471.00,144.60 468.50,149.10 473.50,149.10" fill="#00f"/>
<polygon points="507.50,145.80 505.00,150.30 510.00,150.30" fill="#00f"/>
<polyline points="336.30,27.40 368.60,37.00 401.80,95.60 435.80,110.90 471.00,123.40 507.50,128.60" fill="none" stroke="#000" stroke-width="1.4" stroke-linejoin="round"/>
<rect x="334.50" y="25.60" width="3.6" height="3.6" fill="#000"/>
<rect x="366.80" y="35.20" width="3.6" height="3.6" fill="#000"/>
<rect x="400.00" y="93.80" width="3.6" height="3.6" fill="#000"/>
<rect x="434.00" y="109.10" width="3.6" height="3.6" fill="#000"/>
<rect x="469.20" y="121.60" width="3.6" height="3.6" fill="#000"/>
<rect x="505.70" y="126.80" width="3.6" height="3.6" fill="#000"/>
<polyline points="336.30,27.40 368.60,33.00 394.90,38.20 435.80,92.80 471.00,111.90 507.50,129.80" fill="none" stroke="#f00" stroke-width="1.4" stroke-linejoin="round"/>
<circle cx="368.60" cy="33.00" r="2.1" fill="#f00"/>
<circle cx="394.90" cy="38.20" r="2.1" fill="#f00"/>
<circle cx="435.80" cy="92.80" r="2.1" fill="#f00"/>
<circle cx="471.00" cy="111.90" r="2.1" fill="#f00"/>
<circle cx="507.50" cy="129.80" r="2.1" fill="#f00"/>
<rect x="334.50" y="25.60" width="3.6" height="3.6" fill="#000"/>
<line x1="312.80" y1="152.30" x2="331.70" y2="152.30" stroke="#000" stroke-width="1.3"/>
<rect x="320.80" y="150.70" width="3.2" height="3.2" fill="#000"/>
<text x="333.60" y="155.20" font-size="8.25" text-anchor="start" fill="#111" font-weight="normal" >Li(NH<tspan font-size="4.6" dy="2.6">3</tspan><tspan dy="-2.6">)BH</tspan><tspan font-size="4.6" dy="2.6">4</tspan><tspan dy="-2.6"> heating process</tspan></text>
<line x1="312.80" y1="164.90" x2="331.70" y2="164.90" stroke="#f00" stroke-width="1.3"/>
<circle cx="322.40" cy="164.90" r="1.9" fill="#f00"/>
<text x="333.60" y="167.80" font-size="8.25" text-anchor="start" fill="#111" font-weight="normal" >Li(NH<tspan font-size="4.6" dy="2.6">3</tspan><tspan dy="-2.6">)BH</tspan><tspan font-size="4.6" dy="2.6">4</tspan><tspan dy="-2.6"> cooling process</tspan></text>
<line x1="312.80" y1="177.30" x2="331.70" y2="177.30" stroke="#00f" stroke-width="1.3"/>
<polygon points="322.40,175.14 320.40,178.74 324.40,178.74" fill="#00f"/>
<text x="333.60" y="180.20" font-size="8.25" text-anchor="start" fill="#111" font-weight="normal" >as-received LiBH<tspan font-size="4.6" dy="2.6">4</tspan><tspan dy="-2.6"></tspan></text>
<rect x="38.40" y="225.50" width="227.80" height="166.50" fill="none" stroke="#333" stroke-width="1.3"/>
<line x1="38.40" y1="392.00" x2="38.40" y2="394.60" stroke="#333" stroke-width="1"/>
<text x="38.40" y="403.60" font-size="6.9" text-anchor="middle" fill="#222" font-weight="normal" >3.15</text>
<line x1="57.38" y1="392.00" x2="57.38" y2="393.60" stroke="#333" stroke-width="1"/>
<line x1="76.37" y1="392.00" x2="76.37" y2="394.60" stroke="#333" stroke-width="1"/>
<text x="76.37" y="403.60" font-size="6.9" text-anchor="middle" fill="#222" font-weight="normal" >3.20</text>
<line x1="95.35" y1="392.00" x2="95.35" y2="393.60" stroke="#333" stroke-width="1"/>
<line x1="114.33" y1="392.00" x2="114.33" y2="394.60" stroke="#333" stroke-width="1"/>
<text x="114.33" y="403.60" font-size="6.9" text-anchor="middle" fill="#222" font-weight="normal" >3.25</text>
<line x1="133.32" y1="392.00" x2="133.32" y2="393.60" stroke="#333" stroke-width="1"/>
<line x1="152.30" y1="392.00" x2="152.30" y2="394.60" stroke="#333" stroke-width="1"/>
<text x="152.30" y="403.60" font-size="6.9" text-anchor="middle" fill="#222" font-weight="normal" >3.30</text>
<line x1="171.28" y1="392.00" x2="171.28" y2="393.60" stroke="#333" stroke-width="1"/>
<line x1="190.27" y1="392.00" x2="190.27" y2="394.60" stroke="#333" stroke-width="1"/>
<text x="190.27" y="403.60" font-size="6.9" text-anchor="middle" fill="#222" font-weight="normal" >3.35</text>
<line x1="209.25" y1="392.00" x2="209.25" y2="393.60" stroke="#333" stroke-width="1"/>
<line x1="228.23" y1="392.00" x2="228.23" y2="394.60" stroke="#333" stroke-width="1"/>
<text x="228.23" y="403.60" font-size="6.9" text-anchor="middle" fill="#222" font-weight="normal" >3.40</text>
<line x1="247.22" y1="392.00" x2="247.22" y2="393.60" stroke="#333" stroke-width="1"/>
<line x1="266.20" y1="392.00" x2="266.20" y2="394.60" stroke="#333" stroke-width="1"/>
<text x="266.20" y="403.60" font-size="6.9" text-anchor="middle" fill="#222" font-weight="normal" >3.45</text>
<line x1="35.80" y1="392.00" x2="38.40" y2="392.00" stroke="#333" stroke-width="1"/>
<line x1="263.60" y1="392.00" x2="266.20" y2="392.00" stroke="#333" stroke-width="1"/>
<text x="29.00" y="394.30" font-size="6.5" text-anchor="end" fill="#222" font-weight="normal" >10</text>
<text x="30.40" y="391.30" font-size="3.5" text-anchor="start" fill="#222" font-weight="normal" >-8</text>
<line x1="37.10" y1="383.65" x2="38.40" y2="383.65" stroke="#333" stroke-width="0.7"/>
<line x1="264.90" y1="383.65" x2="266.20" y2="383.65" stroke="#333" stroke-width="0.7"/>
<line x1="37.10" y1="378.76" x2="38.40" y2="378.76" stroke="#333" stroke-width="0.7"/>
<line x1="264.90" y1="378.76" x2="266.20" y2="378.76" stroke="#333" stroke-width="0.7"/>
<line x1="37.10" y1="375.29" x2="38.40" y2="375.29" stroke="#333" stroke-width="0.7"/>
<line x1="264.90" y1="375.29" x2="266.20" y2="375.29" stroke="#333" stroke-width="0.7"/>
<line x1="37.10" y1="372.60" x2="38.40" y2="372.60" stroke="#333" stroke-width="0.7"/>
<line x1="264.90" y1="372.60" x2="266.20" y2="372.60" stroke="#333" stroke-width="0.7"/>
<line x1="37.10" y1="370.41" x2="38.40" y2="370.41" stroke="#333" stroke-width="0.7"/>
<line x1="264.90" y1="370.41" x2="266.20" y2="370.41" stroke="#333" stroke-width="0.7"/>
<line x1="37.10" y1="368.55" x2="38.40" y2="368.55" stroke="#333" stroke-width="0.7"/>
<line x1="264.90" y1="368.55" x2="266.20" y2="368.55" stroke="#333" stroke-width="0.7"/>
<line x1="37.10" y1="366.94" x2="38.40" y2="366.94" stroke="#333" stroke-width="0.7"/>
<line x1="264.90" y1="366.94" x2="266.20" y2="366.94" stroke="#333" stroke-width="0.7"/>
<line x1="37.10" y1="365.52" x2="38.40" y2="365.52" stroke="#333" stroke-width="0.7"/>
<line x1="264.90" y1="365.52" x2="266.20" y2="365.52" stroke="#333" stroke-width="0.7"/>
<line x1="35.80" y1="364.25" x2="38.40" y2="364.25" stroke="#333" stroke-width="1"/>
<line x1="263.60" y1="364.25" x2="266.20" y2="364.25" stroke="#333" stroke-width="1"/>
<text x="29.00" y="366.55" font-size="6.5" text-anchor="end" fill="#222" font-weight="normal" >10</text>
<text x="30.40" y="363.55" font-size="3.5" text-anchor="start" fill="#222" font-weight="normal" >-7</text>
<line x1="37.10" y1="355.90" x2="38.40" y2="355.90" stroke="#333" stroke-width="0.7"/>
<line x1="264.90" y1="355.90" x2="266.20" y2="355.90" stroke="#333" stroke-width="0.7"/>
<line x1="37.10" y1="351.01" x2="38.40" y2="351.01" stroke="#333" stroke-width="0.7"/>
<line x1="264.90" y1="351.01" x2="266.20" y2="351.01" stroke="#333" stroke-width="0.7"/>
<line x1="37.10" y1="347.54" x2="38.40" y2="347.54" stroke="#333" stroke-width="0.7"/>
<line x1="264.90" y1="347.54" x2="266.20" y2="347.54" stroke="#333" stroke-width="0.7"/>
<line x1="37.10" y1="344.85" x2="38.40" y2="344.85" stroke="#333" stroke-width="0.7"/>
<line x1="264.90" y1="344.85" x2="266.20" y2="344.85" stroke="#333" stroke-width="0.7"/>
<line x1="37.10" y1="342.66" x2="38.40" y2="342.66" stroke="#333" stroke-width="0.7"/>
<line x1="264.90" y1="342.66" x2="266.20" y2="342.66" stroke="#333" stroke-width="0.7"/>
<line x1="37.10" y1="340.80" x2="38.40" y2="340.80" stroke="#333" stroke-width="0.7"/>
<line x1="264.90" y1="340.80" x2="266.20" y2="340.80" stroke="#333" stroke-width="0.7"/>
<line x1="37.10" y1="339.19" x2="38.40" y2="339.19" stroke="#333" stroke-width="0.7"/>
<line x1="264.90" y1="339.19" x2="266.20" y2="339.19" stroke="#333" stroke-width="0.7"/>
<line x1="37.10" y1="337.77" x2="38.40" y2="337.77" stroke="#333" stroke-width="0.7"/>
<line x1="264.90" y1="337.77" x2="266.20" y2="337.77" stroke="#333" stroke-width="0.7"/>
<line x1="35.80" y1="336.50" x2="38.40" y2="336.50" stroke="#333" stroke-width="1"/>
<line x1="263.60" y1="336.50" x2="266.20" y2="336.50" stroke="#333" stroke-width="1"/>
<text x="29.00" y="338.80" font-size="6.5" text-anchor="end" fill="#222" font-weight="normal" >10</text>
<text x="30.40" y="335.80" font-size="3.5" text-anchor="start" fill="#222" font-weight="normal" >-6</text>
<line x1="37.10" y1="328.15" x2="38.40" y2="328.15" stroke="#333" stroke-width="0.7"/>
<line x1="264.90" y1="328.15" x2="266.20" y2="328.15" stroke="#333" stroke-width="0.7"/>
<line x1="37.10" y1="323.26" x2="38.40" y2="323.26" stroke="#333" stroke-width="0.7"/>
<line x1="264.90" y1="323.26" x2="266.20" y2="323.26" stroke="#333" stroke-width="0.7"/>
<line x1="37.10" y1="319.79" x2="38.40" y2="319.79" stroke="#333" stroke-width="0.7"/>
<line x1="264.90" y1="319.79" x2="266.20" y2="319.79" stroke="#333" stroke-width="0.7"/>
<line x1="37.10" y1="317.10" x2="38.40" y2="317.10" stroke="#333" stroke-width="0.7"/>
<line x1="264.90" y1="317.10" x2="266.20" y2="317.10" stroke="#333" stroke-width="0.7"/>
<line x1="37.10" y1="314.91" x2="38.40" y2="314.91" stroke="#333" stroke-width="0.7"/>
<line x1="264.90" y1="314.91" x2="266.20" y2="314.91" stroke="#333" stroke-width="0.7"/>
<line x1="37.10" y1="313.05" x2="38.40" y2="313.05" stroke="#333" stroke-width="0.7"/>
<line x1="264.90" y1="313.05" x2="266.20" y2="313.05" stroke="#333" stroke-width="0.7"/>
<line x1="37.10" y1="311.44" x2="38.40" y2="311.44" stroke="#333" stroke-width="0.7"/>
<line x1="264.90" y1="311.44" x2="266.20" y2="311.44" stroke="#333" stroke-width="0.7"/>
<line x1="37.10" y1="310.02" x2="38.40" y2="310.02" stroke="#333" stroke-width="0.7"/>
<line x1="264.90" y1="310.02" x2="266.20" y2="310.02" stroke="#333" stroke-width="0.7"/>
<line x1="35.80" y1="308.75" x2="38.40" y2="308.75" stroke="#333" stroke-width="1"/>
<line x1="263.60" y1="308.75" x2="266.20" y2="308.75" stroke="#333" stroke-width="1"/>
<text x="29.00" y="311.05" font-size="6.5" text-anchor="end" fill="#222" font-weight="normal" >10</text>
<text x="30.40" y="308.05" font-size="3.5" text-anchor="start" fill="#222" font-weight="normal" >-5</text>
<line x1="37.10" y1="300.40" x2="38.40" y2="300.40" stroke="#333" stroke-width="0.7"/>
<line x1="264.90" y1="300.40" x2="266.20" y2="300.40" stroke="#333" stroke-width="0.7"/>
<line x1="37.10" y1="295.51" x2="38.40" y2="295.51" stroke="#333" stroke-width="0.7"/>
<line x1="264.90" y1="295.51" x2="266.20" y2="295.51" stroke="#333" stroke-width="0.7"/>
<line x1="37.10" y1="292.04" x2="38.40" y2="292.04" stroke="#333" stroke-width="0.7"/>
<line x1="264.90" y1="292.04" x2="266.20" y2="292.04" stroke="#333" stroke-width="0.7"/>
<line x1="37.10" y1="289.35" x2="38.40" y2="289.35" stroke="#333" stroke-width="0.7"/>
<line x1="264.90" y1="289.35" x2="266.20" y2="289.35" stroke="#333" stroke-width="0.7"/>
<line x1="37.10" y1="287.16" x2="38.40" y2="287.16" stroke="#333" stroke-width="0.7"/>
<line x1="264.90" y1="287.16" x2="266.20" y2="287.16" stroke="#333" stroke-width="0.7"/>
<line x1="37.10" y1="285.30" x2="38.40" y2="285.30" stroke="#333" stroke-width="0.7"/>
<line x1="264.90" y1="285.30" x2="266.20" y2="285.30" stroke="#333" stroke-width="0.7"/>
<line x1="37.10" y1="283.69" x2="38.40" y2="283.69" stroke="#333" stroke-width="0.7"/>
<line x1="264.90" y1="283.69" x2="266.20" y2="283.69" stroke="#333" stroke-width="0.7"/>
<line x1="37.10" y1="282.27" x2="38.40" y2="282.27" stroke="#333" stroke-width="0.7"/>
<line x1="264.90" y1="282.27" x2="266.20" y2="282.27" stroke="#333" stroke-width="0.7"/>
<line x1="35.80" y1="281.00" x2="38.40" y2="281.00" stroke="#333" stroke-width="1"/>
<line x1="263.60" y1="281.00" x2="266.20" y2="281.00" stroke="#333" stroke-width="1"/>
<text x="29.00" y="283.30" font-size="6.5" text-anchor="end" fill="#222" font-weight="normal" >10</text>
<text x="30.40" y="280.30" font-size="3.5" text-anchor="start" fill="#222" font-weight="normal" >-4</text>
<line x1="37.10" y1="272.65" x2="38.40" y2="272.65" stroke="#333" stroke-width="0.7"/>
<line x1="264.90" y1="272.65" x2="266.20" y2="272.65" stroke="#333" stroke-width="0.7"/>
<line x1="37.10" y1="267.76" x2="38.40" y2="267.76" stroke="#333" stroke-width="0.7"/>
<line x1="264.90" y1="267.76" x2="266.20" y2="267.76" stroke="#333" stroke-width="0.7"/>
<line x1="37.10" y1="264.29" x2="38.40" y2="264.29" stroke="#333" stroke-width="0.7"/>
<line x1="264.90" y1="264.29" x2="266.20" y2="264.29" stroke="#333" stroke-width="0.7"/>
<line x1="37.10" y1="261.60" x2="38.40" y2="261.60" stroke="#333" stroke-width="0.7"/>
<line x1="264.90" y1="261.60" x2="266.20" y2="261.60" stroke="#333" stroke-width="0.7"/>
<line x1="37.10" y1="259.41" x2="38.40" y2="259.41" stroke="#333" stroke-width="0.7"/>
<line x1="264.90" y1="259.41" x2="266.20" y2="259.41" stroke="#333" stroke-width="0.7"/>
<line x1="37.10" y1="257.55" x2="38.40" y2="257.55" stroke="#333" stroke-width="0.7"/>
<line x1="264.90" y1="257.55" x2="266.20" y2="257.55" stroke="#333" stroke-width="0.7"/>
<line x1="37.10" y1="255.94" x2="38.40" y2="255.94" stroke="#333" stroke-width="0.7"/>
<line x1="264.90" y1="255.94" x2="266.20" y2="255.94" stroke="#333" stroke-width="0.7"/>
<line x1="37.10" y1="254.52" x2="38.40" y2="254.52" stroke="#333" stroke-width="0.7"/>
<line x1="264.90" y1="254.52" x2="266.20" y2="254.52" stroke="#333" stroke-width="0.7"/>
<line x1="35.80" y1="253.25" x2="38.40" y2="253.25" stroke="#333" stroke-width="1"/>
<line x1="263.60" y1="253.25" x2="266.20" y2="253.25" stroke="#333" stroke-width="1"/>
<text x="29.00" y="255.55" font-size="6.5" text-anchor="end" fill="#222" font-weight="normal" >10</text>
<text x="30.40" y="252.55" font-size="3.5" text-anchor="start" fill="#222" font-weight="normal" >-3</text>
<line x1="37.10" y1="244.90" x2="38.40" y2="244.90" stroke="#333" stroke-width="0.7"/>
<line x1="264.90" y1="244.90" x2="266.20" y2="244.90" stroke="#333" stroke-width="0.7"/>
<line x1="37.10" y1="240.01" x2="38.40" y2="240.01" stroke="#333" stroke-width="0.7"/>
<line x1="264.90" y1="240.01" x2="266.20" y2="240.01" stroke="#333" stroke-width="0.7"/>
<line x1="37.10" y1="236.54" x2="38.40" y2="236.54" stroke="#333" stroke-width="0.7"/>
<line x1="264.90" y1="236.54" x2="266.20" y2="236.54" stroke="#333" stroke-width="0.7"/>
<line x1="37.10" y1="233.85" x2="38.40" y2="233.85" stroke="#333" stroke-width="0.7"/>
<line x1="264.90" y1="233.85" x2="266.20" y2="233.85" stroke="#333" stroke-width="0.7"/>
<line x1="37.10" y1="231.66" x2="38.40" y2="231.66" stroke="#333" stroke-width="0.7"/>
<line x1="264.90" y1="231.66" x2="266.20" y2="231.66" stroke="#333" stroke-width="0.7"/>
<line x1="37.10" y1="229.80" x2="38.40" y2="229.80" stroke="#333" stroke-width="0.7"/>
<line x1="264.90" y1="229.80" x2="266.20" y2="229.80" stroke="#333" stroke-width="0.7"/>
<line x1="37.10" y1="228.19" x2="38.40" y2="228.19" stroke="#333" stroke-width="0.7"/>
<line x1="264.90" y1="228.19" x2="266.20" y2="228.19" stroke="#333" stroke-width="0.7"/>
<line x1="37.10" y1="226.77" x2="38.40" y2="226.77" stroke="#333" stroke-width="0.7"/>
<line x1="264.90" y1="226.77" x2="266.20" y2="226.77" stroke="#333" stroke-width="0.7"/>
<line x1="35.80" y1="225.50" x2="38.40" y2="225.50" stroke="#333" stroke-width="1"/>
<line x1="263.60" y1="225.50" x2="266.20" y2="225.50" stroke="#333" stroke-width="1"/>
<text x="29.00" y="227.80" font-size="6.5" text-anchor="end" fill="#222" font-weight="normal" >10</text>
<text x="30.40" y="224.80" font-size="3.5" text-anchor="start" fill="#222" font-weight="normal" >-2</text>
<text x="154.00" y="412.10" font-size="8.3" text-anchor="middle" fill="#222" font-weight="normal" >1000/T (K<tspan font-size="5" dy="-3">-1</tspan><tspan dy="3">)</tspan></text>
<text x="11.80" y="303.80" font-size="8.3" text-anchor="middle" fill="#222" font-weight="normal" transform="rotate(-90 11.8 303.8)">σ (S cm<tspan font-size="5" dy="-3">-1</tspan><tspan dy="3">)</tspan></text>
<text x="9.90" y="225.70" font-size="7.4" text-anchor="middle" fill="#111" font-weight="bold" >C</text>
<polyline points="49.60,246.20 88.00,243.70 136.10,245.50 261.50,257.50" fill="none" stroke="#00f" stroke-width="1.4" stroke-linejoin="round"/>
<polygon points="49.60,243.50 47.10,248.00 52.10,248.00" fill="#00f"/>
<polygon points="88.00,241.00 85.50,245.50 90.50,245.50" fill="#00f"/>
<polygon points="136.10,242.80 133.60,247.30 138.60,247.30" fill="#00f"/>
<polygon points="261.50,254.80 259.00,259.30 264.00,259.30" fill="#00f"/>
<polyline points="72.40,251.30 111.70,326.50 153.20,336.10 194.30,346.30 237.90,352.70" fill="none" stroke="#f00" stroke-width="1.4" stroke-linejoin="round"/>
<circle cx="72.40" cy="251.30" r="2.1" fill="#f00"/>
<circle cx="111.70" cy="326.50" r="2.1" fill="#f00"/>
<circle cx="153.20" cy="336.10" r="2.1" fill="#f00"/>
<circle cx="194.30" cy="346.30" r="2.1" fill="#f00"/>
<circle cx="237.90" cy="352.70" r="2.1" fill="#f00"/>
<polyline points="72.40,249.60 111.70,301.70 153.20,314.10 202.90,329.00 237.90,337.00" fill="none" stroke="#088" stroke-width="1.4" stroke-linejoin="round"/>
<polygon points="72.40,252.30 69.90,247.80 74.90,247.80" fill="#088"/>
<polygon points="111.70,304.40 109.20,299.90 114.20,299.90" fill="#088"/>
<polygon points="153.20,316.80 150.70,312.30 155.70,312.30" fill="#088"/>
<polygon points="202.90,331.70 200.40,327.20 205.40,327.20" fill="#088"/>
<polygon points="237.90,339.70 235.40,335.20 240.40,335.20" fill="#088"/>
<polyline points="72.40,236.20 111.40,284.80 153.20,321.20 194.30,340.10 237.90,358.00" fill="none" stroke="#000" stroke-width="1.4" stroke-linejoin="round"/>
<rect x="70.60" y="234.40" width="3.6" height="3.6" fill="#000"/>
<rect x="109.60" y="283.00" width="3.6" height="3.6" fill="#000"/>
<rect x="151.40" y="319.40" width="3.6" height="3.6" fill="#000"/>
<rect x="192.50" y="338.30" width="3.6" height="3.6" fill="#000"/>
<rect x="236.10" y="356.20" width="3.6" height="3.6" fill="#000"/>
<line x1="41.80" y1="342.50" x2="60.90" y2="342.50" stroke="#000" stroke-width="1.3"/>
<rect x="50.30" y="340.90" width="3.2" height="3.2" fill="#000"/>
<text x="63.60" y="345.30" font-size="7.5" text-anchor="start" fill="#111" font-weight="normal" >Li electrode Li(NH<tspan font-size="4.4" dy="2.5">3</tspan><tspan dy="-2.5">)BH</tspan><tspan font-size="4.4" dy="2.5">4</tspan><tspan dy="-2.5"> 5</tspan><tspan font-size="4.3" dy="-3">th</tspan><tspan dy="3"> cycle</tspan></text>
<line x1="41.80" y1="355.00" x2="60.90" y2="355.00" stroke="#f00" stroke-width="1.3"/>
<circle cx="51.90" cy="355.00" r="1.9" fill="#f00"/>
<text x="63.60" y="357.80" font-size="7.5" text-anchor="start" fill="#111" font-weight="normal" >SUS electrode Li(NH<tspan font-size="4.4" dy="2.5">3</tspan><tspan dy="-2.5">)BH</tspan><tspan font-size="4.4" dy="2.5">4</tspan><tspan dy="-2.5"></tspan></text>
<line x1="41.80" y1="367.50" x2="60.90" y2="367.50" stroke="#00f" stroke-width="1.3"/>
<polygon points="51.90,365.34 49.90,368.94 53.90,368.94" fill="#00f"/>
<text x="63.60" y="370.30" font-size="7.5" text-anchor="start" fill="#111" font-weight="normal" >Li electrode Li(NH<tspan font-size="4.4" dy="2.5">3</tspan><tspan dy="-2.5">)</tspan><tspan font-size="4.4" dy="2.5">2</tspan><tspan dy="-2.5">BH</tspan><tspan font-size="4.4" dy="2.5">4</tspan><tspan dy="-2.5"></tspan></text>
<line x1="41.80" y1="380.00" x2="60.90" y2="380.00" stroke="#088" stroke-width="1.3"/>
<polygon points="51.90,382.16 49.90,378.56 53.90,378.56" fill="#088"/>
<text x="63.60" y="382.80" font-size="7.5" text-anchor="start" fill="#111" font-weight="normal" >Li electrode Li(NH<tspan font-size="4.4" dy="2.5">3</tspan><tspan dy="-2.5">)</tspan><tspan font-size="4.4" dy="2.5">0.5</tspan><tspan dy="-2.5">BH</tspan><tspan font-size="4.4" dy="2.5">4</tspan><tspan dy="-2.5"></tspan></text>
<rect x="312.80" y="227.40" width="221.40" height="161.90" fill="none" stroke="#333" stroke-width="1.3"/>
<line x1="312.80" y1="389.30" x2="312.80" y2="391.90" stroke="#333" stroke-width="1"/>
<text x="312.80" y="399.80" font-size="6.7" text-anchor="middle" fill="#222" font-weight="normal" >0</text>
<line x1="334.94" y1="389.30" x2="334.94" y2="390.90" stroke="#333" stroke-width="1"/>
<line x1="357.08" y1="389.30" x2="357.08" y2="391.90" stroke="#333" stroke-width="1"/>
<text x="357.08" y="399.80" font-size="6.7" text-anchor="middle" fill="#222" font-weight="normal" >200</text>
<line x1="379.22" y1="389.30" x2="379.22" y2="390.90" stroke="#333" stroke-width="1"/>
<line x1="401.36" y1="389.30" x2="401.36" y2="391.90" stroke="#333" stroke-width="1"/>
<text x="401.36" y="399.80" font-size="6.7" text-anchor="middle" fill="#222" font-weight="normal" >400</text>
<line x1="423.50" y1="389.30" x2="423.50" y2="390.90" stroke="#333" stroke-width="1"/>
<line x1="445.64" y1="389.30" x2="445.64" y2="391.90" stroke="#333" stroke-width="1"/>
<text x="445.64" y="399.80" font-size="6.7" text-anchor="middle" fill="#222" font-weight="normal" >600</text>
<line x1="467.78" y1="389.30" x2="467.78" y2="390.90" stroke="#333" stroke-width="1"/>
<line x1="489.92" y1="389.30" x2="489.92" y2="391.90" stroke="#333" stroke-width="1"/>
<text x="489.92" y="399.80" font-size="6.7" text-anchor="middle" fill="#222" font-weight="normal" >800</text>
<line x1="512.06" y1="389.30" x2="512.06" y2="390.90" stroke="#333" stroke-width="1"/>
<line x1="534.20" y1="389.30" x2="534.20" y2="391.90" stroke="#333" stroke-width="1"/>
<text x="534.20" y="399.80" font-size="6.7" text-anchor="middle" fill="#222" font-weight="normal" >1000</text>
<line x1="310.20" y1="389.30" x2="312.80" y2="389.30" stroke="#333" stroke-width="1"/>
<line x1="531.60" y1="389.30" x2="534.20" y2="389.30" stroke="#333" stroke-width="1"/>
<text x="303.90" y="391.60" font-size="6.5" text-anchor="end" fill="#222" font-weight="normal" >10</text>
<text x="305.30" y="388.60" font-size="3.5" text-anchor="start" fill="#222" font-weight="normal" >-7</text>
<line x1="311.50" y1="379.55" x2="312.80" y2="379.55" stroke="#333" stroke-width="0.7"/>
<line x1="532.90" y1="379.55" x2="534.20" y2="379.55" stroke="#333" stroke-width="0.7"/>
<line x1="311.50" y1="373.85" x2="312.80" y2="373.85" stroke="#333" stroke-width="0.7"/>
<line x1="532.90" y1="373.85" x2="534.20" y2="373.85" stroke="#333" stroke-width="0.7"/>
<line x1="311.50" y1="369.81" x2="312.80" y2="369.81" stroke="#333" stroke-width="0.7"/>
<line x1="532.90" y1="369.81" x2="534.20" y2="369.81" stroke="#333" stroke-width="0.7"/>
<line x1="311.50" y1="366.67" x2="312.80" y2="366.67" stroke="#333" stroke-width="0.7"/>
<line x1="532.90" y1="366.67" x2="534.20" y2="366.67" stroke="#333" stroke-width="0.7"/>
<line x1="311.50" y1="364.10" x2="312.80" y2="364.10" stroke="#333" stroke-width="0.7"/>
<line x1="532.90" y1="364.10" x2="534.20" y2="364.10" stroke="#333" stroke-width="0.7"/>
<line x1="311.50" y1="361.94" x2="312.80" y2="361.94" stroke="#333" stroke-width="0.7"/>
<line x1="532.90" y1="361.94" x2="534.20" y2="361.94" stroke="#333" stroke-width="0.7"/>
<line x1="311.50" y1="360.06" x2="312.80" y2="360.06" stroke="#333" stroke-width="0.7"/>
<line x1="532.90" y1="360.06" x2="534.20" y2="360.06" stroke="#333" stroke-width="0.7"/>
<line x1="311.50" y1="358.40" x2="312.80" y2="358.40" stroke="#333" stroke-width="0.7"/>
<line x1="532.90" y1="358.40" x2="534.20" y2="358.40" stroke="#333" stroke-width="0.7"/>
<line x1="310.20" y1="356.92" x2="312.80" y2="356.92" stroke="#333" stroke-width="1"/>
<line x1="531.60" y1="356.92" x2="534.20" y2="356.92" stroke="#333" stroke-width="1"/>
<text x="303.90" y="359.22" font-size="6.5" text-anchor="end" fill="#222" font-weight="normal" >10</text>
<text x="305.30" y="356.22" font-size="3.5" text-anchor="start" fill="#222" font-weight="normal" >-6</text>
<line x1="311.50" y1="347.17" x2="312.80" y2="347.17" stroke="#333" stroke-width="0.7"/>
<line x1="532.90" y1="347.17" x2="534.20" y2="347.17" stroke="#333" stroke-width="0.7"/>
<line x1="311.50" y1="341.47" x2="312.80" y2="341.47" stroke="#333" stroke-width="0.7"/>
<line x1="532.90" y1="341.47" x2="534.20" y2="341.47" stroke="#333" stroke-width="0.7"/>
<line x1="311.50" y1="337.43" x2="312.80" y2="337.43" stroke="#333" stroke-width="0.7"/>
<line x1="532.90" y1="337.43" x2="534.20" y2="337.43" stroke="#333" stroke-width="0.7"/>
<line x1="311.50" y1="334.29" x2="312.80" y2="334.29" stroke="#333" stroke-width="0.7"/>
<line x1="532.90" y1="334.29" x2="534.20" y2="334.29" stroke="#333" stroke-width="0.7"/>
<line x1="311.50" y1="331.72" x2="312.80" y2="331.72" stroke="#333" stroke-width="0.7"/>
<line x1="532.90" y1="331.72" x2="534.20" y2="331.72" stroke="#333" stroke-width="0.7"/>
<line x1="311.50" y1="329.56" x2="312.80" y2="329.56" stroke="#333" stroke-width="0.7"/>
<line x1="532.90" y1="329.56" x2="534.20" y2="329.56" stroke="#333" stroke-width="0.7"/>
<line x1="311.50" y1="327.68" x2="312.80" y2="327.68" stroke="#333" stroke-width="0.7"/>
<line x1="532.90" y1="327.68" x2="534.20" y2="327.68" stroke="#333" stroke-width="0.7"/>
<line x1="311.50" y1="326.02" x2="312.80" y2="326.02" stroke="#333" stroke-width="0.7"/>
<line x1="532.90" y1="326.02" x2="534.20" y2="326.02" stroke="#333" stroke-width="0.7"/>
<line x1="310.20" y1="324.54" x2="312.80" y2="324.54" stroke="#333" stroke-width="1"/>
<line x1="531.60" y1="324.54" x2="534.20" y2="324.54" stroke="#333" stroke-width="1"/>
<text x="303.90" y="326.84" font-size="6.5" text-anchor="end" fill="#222" font-weight="normal" >10</text>
<text x="305.30" y="323.84" font-size="3.5" text-anchor="start" fill="#222" font-weight="normal" >-5</text>
<line x1="311.50" y1="314.79" x2="312.80" y2="314.79" stroke="#333" stroke-width="0.7"/>
<line x1="532.90" y1="314.79" x2="534.20" y2="314.79" stroke="#333" stroke-width="0.7"/>
<line x1="311.50" y1="309.09" x2="312.80" y2="309.09" stroke="#333" stroke-width="0.7"/>
<line x1="532.90" y1="309.09" x2="534.20" y2="309.09" stroke="#333" stroke-width="0.7"/>
<line x1="311.50" y1="305.05" x2="312.80" y2="305.05" stroke="#333" stroke-width="0.7"/>
<line x1="532.90" y1="305.05" x2="534.20" y2="305.05" stroke="#333" stroke-width="0.7"/>
<line x1="311.50" y1="301.91" x2="312.80" y2="301.91" stroke="#333" stroke-width="0.7"/>
<line x1="532.90" y1="301.91" x2="534.20" y2="301.91" stroke="#333" stroke-width="0.7"/>
<line x1="311.50" y1="299.34" x2="312.80" y2="299.34" stroke="#333" stroke-width="0.7"/>
<line x1="532.90" y1="299.34" x2="534.20" y2="299.34" stroke="#333" stroke-width="0.7"/>
<line x1="311.50" y1="297.18" x2="312.80" y2="297.18" stroke="#333" stroke-width="0.7"/>
<line x1="532.90" y1="297.18" x2="534.20" y2="297.18" stroke="#333" stroke-width="0.7"/>
<line x1="311.50" y1="295.30" x2="312.80" y2="295.30" stroke="#333" stroke-width="0.7"/>
<line x1="532.90" y1="295.30" x2="534.20" y2="295.30" stroke="#333" stroke-width="0.7"/>
<line x1="311.50" y1="293.64" x2="312.80" y2="293.64" stroke="#333" stroke-width="0.7"/>
<line x1="532.90" y1="293.64" x2="534.20" y2="293.64" stroke="#333" stroke-width="0.7"/>
<line x1="310.20" y1="292.16" x2="312.80" y2="292.16" stroke="#333" stroke-width="1"/>
<line x1="531.60" y1="292.16" x2="534.20" y2="292.16" stroke="#333" stroke-width="1"/>
<text x="303.90" y="294.46" font-size="6.5" text-anchor="end" fill="#222" font-weight="normal" >10</text>
<text x="305.30" y="291.46" font-size="3.5" text-anchor="start" fill="#222" font-weight="normal" >-4</text>
<line x1="311.50" y1="282.41" x2="312.80" y2="282.41" stroke="#333" stroke-width="0.7"/>
<line x1="532.90" y1="282.41" x2="534.20" y2="282.41" stroke="#333" stroke-width="0.7"/>
<line x1="311.50" y1="276.71" x2="312.80" y2="276.71" stroke="#333" stroke-width="0.7"/>
<line x1="532.90" y1="276.71" x2="534.20" y2="276.71" stroke="#333" stroke-width="0.7"/>
<line x1="311.50" y1="272.67" x2="312.80" y2="272.67" stroke="#333" stroke-width="0.7"/>
<line x1="532.90" y1="272.67" x2="534.20" y2="272.67" stroke="#333" stroke-width="0.7"/>
<line x1="311.50" y1="269.53" x2="312.80" y2="269.53" stroke="#333" stroke-width="0.7"/>
<line x1="532.90" y1="269.53" x2="534.20" y2="269.53" stroke="#333" stroke-width="0.7"/>
<line x1="311.50" y1="266.96" x2="312.80" y2="266.96" stroke="#333" stroke-width="0.7"/>
<line x1="532.90" y1="266.96" x2="534.20" y2="266.96" stroke="#333" stroke-width="0.7"/>
<line x1="311.50" y1="264.80" x2="312.80" y2="264.80" stroke="#333" stroke-width="0.7"/>
<line x1="532.90" y1="264.80" x2="534.20" y2="264.80" stroke="#333" stroke-width="0.7"/>
<line x1="311.50" y1="262.92" x2="312.80" y2="262.92" stroke="#333" stroke-width="0.7"/>
<line x1="532.90" y1="262.92" x2="534.20" y2="262.92" stroke="#333" stroke-width="0.7"/>
<line x1="311.50" y1="261.26" x2="312.80" y2="261.26" stroke="#333" stroke-width="0.7"/>
<line x1="532.90" y1="261.26" x2="534.20" y2="261.26" stroke="#333" stroke-width="0.7"/>
<line x1="310.20" y1="259.78" x2="312.80" y2="259.78" stroke="#333" stroke-width="1"/>
<line x1="531.60" y1="259.78" x2="534.20" y2="259.78" stroke="#333" stroke-width="1"/>
<text x="303.90" y="262.08" font-size="6.5" text-anchor="end" fill="#222" font-weight="normal" >10</text>
<text x="305.30" y="259.08" font-size="3.5" text-anchor="start" fill="#222" font-weight="normal" >-3</text>
<line x1="311.50" y1="250.03" x2="312.80" y2="250.03" stroke="#333" stroke-width="0.7"/>
<line x1="532.90" y1="250.03" x2="534.20" y2="250.03" stroke="#333" stroke-width="0.7"/>
<line x1="311.50" y1="244.33" x2="312.80" y2="244.33" stroke="#333" stroke-width="0.7"/>
<line x1="532.90" y1="244.33" x2="534.20" y2="244.33" stroke="#333" stroke-width="0.7"/>
<line x1="311.50" y1="240.29" x2="312.80" y2="240.29" stroke="#333" stroke-width="0.7"/>
<line x1="532.90" y1="240.29" x2="534.20" y2="240.29" stroke="#333" stroke-width="0.7"/>
<line x1="311.50" y1="237.15" x2="312.80" y2="237.15" stroke="#333" stroke-width="0.7"/>
<line x1="532.90" y1="237.15" x2="534.20" y2="237.15" stroke="#333" stroke-width="0.7"/>
<line x1="311.50" y1="234.58" x2="312.80" y2="234.58" stroke="#333" stroke-width="0.7"/>
<line x1="532.90" y1="234.58" x2="534.20" y2="234.58" stroke="#333" stroke-width="0.7"/>
<line x1="311.50" y1="232.42" x2="312.80" y2="232.42" stroke="#333" stroke-width="0.7"/>
<line x1="532.90" y1="232.42" x2="534.20" y2="232.42" stroke="#333" stroke-width="0.7"/>
<line x1="311.50" y1="230.54" x2="312.80" y2="230.54" stroke="#333" stroke-width="0.7"/>
<line x1="532.90" y1="230.54" x2="534.20" y2="230.54" stroke="#333" stroke-width="0.7"/>
<line x1="311.50" y1="228.88" x2="312.80" y2="228.88" stroke="#333" stroke-width="0.7"/>
<line x1="532.90" y1="228.88" x2="534.20" y2="228.88" stroke="#333" stroke-width="0.7"/>
<line x1="310.20" y1="227.40" x2="312.80" y2="227.40" stroke="#333" stroke-width="1"/>
<line x1="531.60" y1="227.40" x2="534.20" y2="227.40" stroke="#333" stroke-width="1"/>
<text x="303.90" y="229.70" font-size="6.5" text-anchor="end" fill="#222" font-weight="normal" >10</text>
<text x="305.30" y="226.70" font-size="3.5" text-anchor="start" fill="#222" font-weight="normal" >-2</text>
<text x="425.30" y="411.80" font-size="9.5" text-anchor="middle" fill="#222" font-weight="normal" >Time (s)</text>
<text x="289.30" y="308.80" font-size="8.6" text-anchor="middle" fill="#222" font-weight="normal" transform="rotate(-90 289.3 308.8)">conductivity (S cm<tspan font-size="5.5" dy="-3.5">-1</tspan><tspan dy="3.5">)</tspan></text>
<text x="281.20" y="225.70" font-size="7.4" text-anchor="middle" fill="#111" font-weight="bold" >D</text>
<line x1="312.80" y1="255.30" x2="534.20" y2="255.30" stroke="#111" stroke-width="1.5"/>
<text x="471.00" y="248.00" font-size="9.6" text-anchor="middle" fill="#111" font-weight="normal" >Li/Li(NH<tspan font-size="5.2" dy="3.2">3</tspan><tspan dy="-3.2">)BH</tspan><tspan font-size="5.2" dy="3.2">4</tspan><tspan dy="-3.2">/Li</tspan></text>
<polyline points="313.00,307.40 313.10,330.00 313.30,345.00" fill="none" stroke="#e00" stroke-width="1.3" stroke-linejoin="round"/>
<polyline points="313.10,330.00 313.30,345.00 313.60,353.50" fill="none" stroke="#e00" stroke-width="1.6" stroke-linejoin="round"/>
<polyline points="313.30,345.00 313.60,353.50 314.00,357.18 314.70,360.74 315.40,362.25 316.10,363.17 316.80,363.91 317.50,364.56 318.20,365.13 318.90,365.64 319.60,366.08 320.30,366.48 321.00,366.86 321.70,367.21 322.40,367.54 323.10,367.84 323.80,368.13 324.50,368.41 325.20,368.67 325.90,368.92 326.60,369.17 327.30,369.41 328.00,369.64 328.70,369.87 329.40,370.08 330.10,370.29 330.80,370.50 331.50,370.69 332.20,370.87 332.90,371.04 333.60,371.21 334.30,371.36 335.00,371.50 335.70,371.63 336.40,371.76 337.10,371.88 337.80,371.99 338.50,372.10 339.20,372.21 339.90,372.31 340.60,373.04 341.30,372.66 342.00,372.64 342.70,372.05 343.40,372.70 344.10,372.77 344.80,372.96 345.50,372.86 346.20,373.16 346.90,373.10 347.60,372.90 348.30,373.76 349.00,373.85 349.70,374.22 350.40,373.73 351.10,373.65 351.80,373.68 352.50,373.41 353.20,374.37 353.90,373.71 354.60,373.75 355.30,374.15 356.00,374.81 356.70,374.42 357.40,374.03 358.10,374.19 358.80,374.70 359.50,374.47 360.20,374.29 360.90,374.51 361.60,374.89 362.30,375.35 363.00,374.26 363.70,374.50 364.40,374.47 365.10,373.94 365.80,374.50 366.50,374.50 367.20,375.29 367.90,374.89 368.60,374.41 369.30,375.24 370.00,374.94 370.70,374.49 371.40,374.94 372.10,374.99 372.80,374.93 373.50,375.30 374.20,374.55 374.90,375.29 375.60,375.78 376.30,375.78 377.00,375.91 377.70,375.97 378.40,376.15 379.10,375.28 379.80,376.02 380.50,375.12 381.20,375.61 381.90,375.21 382.60,376.29 383.30,376.44 384.00,375.96 384.70,376.70 385.40,375.90 386.10,376.25 386.80,376.31 387.50,375.94 388.20,376.53 388.90,377.12 389.60,376.14 390.30,376.88 391.00,376.57 391.70,377.31 392.40,376.92 393.10,377.05 393.80,377.10 394.50,377.02 395.20,376.50 395.90,377.53 396.60,376.61 397.30,377.22 398.00,377.40 398.70,376.94 399.40,377.32 400.10,377.71 400.80,377.33 401.50,377.06 402.20,376.39 402.90,377.10 403.60,377.26 404.30,377.32 405.00,377.20 405.70,377.70 406.40,377.39 407.10,377.58 407.80,377.89 408.50,377.38 409.20,377.60 409.90,378.49 410.60,378.07 411.30,377.33 412.00,377.78 412.70,378.04 413.40,378.29 414.10,377.94 414.80,377.73 415.50,377.68 416.20,378.18 416.90,378.09 417.60,377.82 418.30,377.96 419.00,377.90 419.70,378.32 420.40,377.85 421.10,378.28 421.80,378.43 422.50,378.32 423.20,377.88 423.90,378.66 424.60,377.98 425.30,378.38 426.00,377.99 426.70,377.66 427.40,378.37 428.10,378.41 428.80,378.30 429.50,378.44 430.20,378.13 430.90,378.12 431.60,378.34 432.30,379.08 433.00,378.72 433.70,378.27 434.40,378.66 435.10,378.32 435.80,378.34 436.50,378.82 437.20,378.35 437.90,377.96 438.60,378.25 439.30,378.61 440.00,378.64 440.70,379.05 441.40,378.38 442.10,378.90 442.80,378.81 443.50,378.62 444.20,378.98 444.90,378.88 445.60,378.42 446.30,379.11 447.00,378.32 447.70,378.78 448.40,378.78 449.10,378.94 449.80,378.55 450.50,378.80 451.20,378.78 451.90,379.19 452.60,378.57 453.30,378.89 454.00,378.79 454.70,378.44 455.40,379.84 456.10,378.89 456.80,378.40 457.50,379.43 458.20,378.57 458.90,379.09 459.60,379.27 460.30,378.75 461.00,378.84 461.70,378.81 462.40,378.96 463.10,378.45 463.80,378.60 464.50,378.99 465.20,379.41 465.90,379.28 466.60,379.67 467.30,379.32 468.00,378.90 468.70,379.05 469.40,378.39 470.10,378.77 470.80,378.76 471.50,379.22 472.20,379.36 472.90,378.94 473.60,378.94 474.30,378.61 475.00,379.11 475.70,379.25 476.40,379.33 477.10,378.91 477.80,379.88 478.50,379.61 479.20,379.17 479.90,379.03 480.60,379.10 481.30,379.28 482.00,379.23 482.70,379.41 483.40,379.52 484.10,379.74 484.80,379.67 485.50,379.24 486.20,379.42 486.90,379.16 487.60,379.10 488.30,379.98 489.00,379.16 489.70,380.03 490.40,379.22 491.10,379.44 491.80,379.75 492.50,379.39 493.20,379.53 493.90,379.32 494.60,379.25 495.30,379.37 496.00,379.21 496.70,380.02 497.40,379.41 498.10,380.08 498.80,378.55 499.50,379.51 500.20,379.71 500.90,379.43 501.60,379.92 502.30,379.78 503.00,379.47 503.70,379.73 504.40,380.57 505.10,379.69 505.80,379.72 506.50,379.47 507.20,379.68 507.90,379.19 508.60,379.58 509.30,380.52 510.00,380.04 510.70,379.90 511.40,380.07 512.10,380.35 512.80,379.90 513.50,380.43 514.20,380.08 514.90,379.77 515.60,380.32 516.30,378.90 517.00,379.53 517.70,379.82 518.40,379.42 519.10,379.69 519.80,379.52 520.50,379.52 521.20,380.70 521.90,379.98 522.60,379.74 523.30,380.23 524.00,379.69 524.70,380.08 525.40,379.90 526.10,380.35 526.80,379.29 527.50,380.05 528.20,379.83 528.90,379.39 529.60,380.17 530.30,379.49 531.00,380.36 531.70,379.98 532.40,380.04 533.10,379.83 533.80,380.12" fill="none" stroke="#e00" stroke-width="1.9" stroke-linejoin="round"/>
<text x="483.60" y="369.00" font-size="9.2" text-anchor="middle" fill="#e00" font-weight="normal" >SUS/Li(NH<tspan font-size="5.1" dy="3.0">3</tspan><tspan dy="-3.0">)BH</tspan><tspan font-size="5.1" dy="3.0">4</tspan><tspan dy="-3.0">/SUS</tspan></text>
<rect x="342.60" y="259.10" width="123.40" height="89.20" fill="none" stroke="#555" stroke-width="0.8"/>
<line x1="342.60" y1="348.30" x2="342.60" y2="349.80" stroke="#555" stroke-width="0.5"/>
<text x="342.60" y="353.60" font-size="3.5" text-anchor="middle" fill="#333" font-weight="normal" >0</text>
<line x1="357.68" y1="348.30" x2="357.68" y2="349.20" stroke="#555" stroke-width="0.5"/>
<line x1="372.75" y1="348.30" x2="372.75" y2="349.80" stroke="#555" stroke-width="0.5"/>
<text x="372.75" y="353.60" font-size="3.5" text-anchor="middle" fill="#333" font-weight="normal" >5000</text>
<line x1="387.82" y1="348.30" x2="387.82" y2="349.20" stroke="#555" stroke-width="0.5"/>
<line x1="402.90" y1="348.30" x2="402.90" y2="349.80" stroke="#555" stroke-width="0.5"/>
<text x="402.90" y="353.60" font-size="3.5" text-anchor="middle" fill="#333" font-weight="normal" >10000</text>
<line x1="417.98" y1="348.30" x2="417.98" y2="349.20" stroke="#555" stroke-width="0.5"/>
<line x1="433.05" y1="348.30" x2="433.05" y2="349.80" stroke="#555" stroke-width="0.5"/>
<text x="433.05" y="353.60" font-size="3.5" text-anchor="middle" fill="#333" font-weight="normal" >15000</text>
<line x1="448.12" y1="348.30" x2="448.12" y2="349.20" stroke="#555" stroke-width="0.5"/>
<line x1="463.20" y1="348.30" x2="463.20" y2="349.80" stroke="#555" stroke-width="0.5"/>
<text x="463.20" y="353.60" font-size="3.5" text-anchor="middle" fill="#333" font-weight="normal" >20000</text>
<line x1="341.10" y1="348.30" x2="342.60" y2="348.30" stroke="#555" stroke-width="0.5"/>
<text x="340.10" y="349.55" font-size="3.5" text-anchor="end" fill="#333" font-weight="normal" >0</text>
<line x1="341.70" y1="341.93" x2="342.60" y2="341.93" stroke="#555" stroke-width="0.5"/>
<line x1="341.10" y1="335.56" x2="342.60" y2="335.56" stroke="#555" stroke-width="0.5"/>
<text x="340.10" y="336.81" font-size="3.5" text-anchor="end" fill="#333" font-weight="normal" >2000</text>
<line x1="341.70" y1="329.19" x2="342.60" y2="329.19" stroke="#555" stroke-width="0.5"/>
<line x1="341.10" y1="322.81" x2="342.60" y2="322.81" stroke="#555" stroke-width="0.5"/>
<text x="340.10" y="324.06" font-size="3.5" text-anchor="end" fill="#333" font-weight="normal" >4000</text>
<line x1="341.70" y1="316.44" x2="342.60" y2="316.44" stroke="#555" stroke-width="0.5"/>
<line x1="341.10" y1="310.07" x2="342.60" y2="310.07" stroke="#555" stroke-width="0.5"/>
<text x="340.10" y="311.32" font-size="3.5" text-anchor="end" fill="#333" font-weight="normal" >6000</text>
<line x1="341.70" y1="303.70" x2="342.60" y2="303.70" stroke="#555" stroke-width="0.5"/>
<line x1="341.10" y1="297.33" x2="342.60" y2="297.33" stroke="#555" stroke-width="0.5"/>
<text x="340.10" y="298.58" font-size="3.5" text-anchor="end" fill="#333" font-weight="normal" >8000</text>
<line x1="341.70" y1="290.96" x2="342.60" y2="290.96" stroke="#555" stroke-width="0.5"/>
<line x1="341.10" y1="284.59" x2="342.60" y2="284.59" stroke="#555" stroke-width="0.5"/>
<text x="340.10" y="285.84" font-size="3.5" text-anchor="end" fill="#333" font-weight="normal" >10000</text>
<line x1="341.70" y1="278.21" x2="342.60" y2="278.21" stroke="#555" stroke-width="0.5"/>
<line x1="341.10" y1="271.84" x2="342.60" y2="271.84" stroke="#555" stroke-width="0.5"/>
<text x="340.10" y="273.09" font-size="3.5" text-anchor="end" fill="#333" font-weight="normal" >12000</text>
<line x1="341.70" y1="265.47" x2="342.60" y2="265.47" stroke="#555" stroke-width="0.5"/>
<line x1="341.10" y1="259.10" x2="342.60" y2="259.10" stroke="#555" stroke-width="0.5"/>
<text x="340.10" y="260.35" font-size="3.5" text-anchor="end" fill="#333" font-weight="normal" >14000</text>
<text x="403.20" y="360.60" font-size="4.2" text-anchor="middle" fill="#333" font-weight="normal" >Z' (Ohm)</text>
<text x="326.50" y="304.00" font-size="4.2" text-anchor="middle" fill="#333" font-weight="normal" transform="rotate(-90 326.5 304)">-Z" (Ohm)</text>
<text x="405.70" y="273.60" font-size="5.0" text-anchor="start" fill="#11e" font-weight="normal" stroke="#11e" stroke-width="0.18">308 K</text>
<text x="405.90" y="280.20" font-size="5.0" text-anchor="start" fill="#11e" font-weight="normal" stroke="#11e" stroke-width="0.18">SUS/Li(NH<tspan font-size="3.3" dy="1.2">3</tspan><tspan dy="-1.2">)BH</tspan><tspan font-size="3.3" dy="1.2">4</tspan><tspan dy="-1.2">/SUS</tspan></text>
<circle cx="345.90" cy="331.40" r="0.95" fill="#00f"/>
<circle cx="348.10" cy="327.80" r="0.95" fill="#00f"/>
<circle cx="352.20" cy="321.30" r="0.95" fill="#00f"/>
<circle cx="361.50" cy="311.50" r="0.95" fill="#00f"/>
<circle cx="374.50" cy="304.90" r="0.95" fill="#00f"/>
<circle cx="390.60" cy="303.30" r="0.95" fill="#00f"/>
<circle cx="405.90" cy="306.80" r="0.95" fill="#00f"/>
<circle cx="417.60" cy="314.20" r="0.95" fill="#00f"/>
<circle cx="425.30" cy="322.40" r="0.95" fill="#00f"/>
<circle cx="429.60" cy="329.40" r="0.95" fill="#00f"/>
<circle cx="431.80" cy="334.90" r="0.95" fill="#00f"/>
<circle cx="433.00" cy="338.50" r="0.95" fill="#00f"/>
<circle cx="433.80" cy="341.50" r="0.95" fill="#00f"/>
<circle cx="434.40" cy="343.70" r="0.95" fill="#00f"/>
<circle cx="434.90" cy="345.40" r="0.95" fill="#00f"/>
<circle cx="435.30" cy="346.60" r="0.95" fill="#00f"/>
<circle cx="435.80" cy="347.30" r="0.95" fill="#00f"/>
<circle cx="436.50" cy="346.80" r="0.95" fill="#00f"/>
<circle cx="437.30" cy="345.60" r="0.95" fill="#00f"/>
<circle cx="438.30" cy="343.80" r="0.95" fill="#00f"/>
<circle cx="439.50" cy="341.50" r="0.95" fill="#00f"/>
<circle cx="440.80" cy="338.80" r="0.95" fill="#00f"/>
<circle cx="442.20" cy="335.50" r="0.95" fill="#00f"/>
<circle cx="444.00" cy="331.50" r="0.95" fill="#00f"/>
<circle cx="445.80" cy="328.00" r="0.95" fill="#00f"/>
<circle cx="447.60" cy="325.90" r="0.95" fill="#00f"/>
</svg></body></html>
